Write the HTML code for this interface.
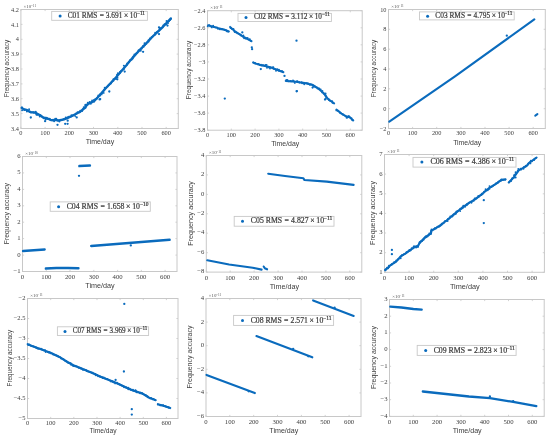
<!DOCTYPE html><html><head><meta charset="utf-8"><style>html,body{margin:0;padding:0;background:#fff;width:550px;height:440px;overflow:hidden}svg{display:block;filter:blur(0.25px)}.tk{font-family:"Liberation Serif",serif;font-size:6.3px;fill:#3c3c3c}.lb{font-family:"Liberation Sans",sans-serif;font-size:7.1px;fill:#3c3c3c}.yl{font-size:6.4px}.lg{font-family:"Liberation Serif",serif;fill:#3a3a3a;stroke:#3a3a3a;stroke-width:0.22px}.ex{font-family:"Liberation Serif",serif;font-size:4.9px;fill:#555}</style></head><body>
<svg width="550" height="440" viewBox="0 0 550 440">
<rect width="550" height="440" fill="#fff"/>
<g><rect x="20.9" y="9.5" width="157.4" height="119.0" fill="none" stroke="#c8c8c8" stroke-width="1"/><path d="M20.9 128.5v-1.6M20.9 9.5v1.6" stroke="#c8c8c8" stroke-width="0.8"/><text class="tk" style="font-size:6.30px" x="20.9" y="135.4" text-anchor="middle">0</text><path d="M45.1 128.5v-1.6M45.1 9.5v1.6" stroke="#c8c8c8" stroke-width="0.8"/><text class="tk" style="font-size:6.30px" x="45.1" y="135.4" text-anchor="middle">100</text><path d="M69.3 128.5v-1.6M69.3 9.5v1.6" stroke="#c8c8c8" stroke-width="0.8"/><text class="tk" style="font-size:6.30px" x="69.3" y="135.4" text-anchor="middle">200</text><path d="M93.5 128.5v-1.6M93.5 9.5v1.6" stroke="#c8c8c8" stroke-width="0.8"/><text class="tk" style="font-size:6.30px" x="93.5" y="135.4" text-anchor="middle">300</text><path d="M117.8 128.5v-1.6M117.8 9.5v1.6" stroke="#c8c8c8" stroke-width="0.8"/><text class="tk" style="font-size:6.30px" x="117.8" y="135.4" text-anchor="middle">400</text><path d="M142.0 128.5v-1.6M142.0 9.5v1.6" stroke="#c8c8c8" stroke-width="0.8"/><text class="tk" style="font-size:6.30px" x="142.0" y="135.4" text-anchor="middle">500</text><path d="M166.2 128.5v-1.6M166.2 9.5v1.6" stroke="#c8c8c8" stroke-width="0.8"/><text class="tk" style="font-size:6.30px" x="166.2" y="135.4" text-anchor="middle">600</text><path d="M20.9 128.5h1.6M178.3 128.5h-1.6" stroke="#c8c8c8" stroke-width="0.8"/><text class="tk" style="font-size:6.30px" x="18.9" y="130.6" text-anchor="end">3.4</text><path d="M20.9 113.6h1.6M178.3 113.6h-1.6" stroke="#c8c8c8" stroke-width="0.8"/><text class="tk" style="font-size:6.30px" x="18.9" y="115.7" text-anchor="end">3.5</text><path d="M20.9 98.7h1.6M178.3 98.7h-1.6" stroke="#c8c8c8" stroke-width="0.8"/><text class="tk" style="font-size:6.30px" x="18.9" y="100.8" text-anchor="end">3.6</text><path d="M20.9 83.9h1.6M178.3 83.9h-1.6" stroke="#c8c8c8" stroke-width="0.8"/><text class="tk" style="font-size:6.30px" x="18.9" y="86.0" text-anchor="end">3.7</text><path d="M20.9 69.0h1.6M178.3 69.0h-1.6" stroke="#c8c8c8" stroke-width="0.8"/><text class="tk" style="font-size:6.30px" x="18.9" y="71.1" text-anchor="end">3.8</text><path d="M20.9 54.1h1.6M178.3 54.1h-1.6" stroke="#c8c8c8" stroke-width="0.8"/><text class="tk" style="font-size:6.30px" x="18.9" y="56.2" text-anchor="end">3.9</text><path d="M20.9 39.3h1.6M178.3 39.3h-1.6" stroke="#c8c8c8" stroke-width="0.8"/><text class="tk" style="font-size:6.30px" x="18.9" y="41.4" text-anchor="end">4</text><path d="M20.9 24.4h1.6M178.3 24.4h-1.6" stroke="#c8c8c8" stroke-width="0.8"/><text class="tk" style="font-size:6.30px" x="18.9" y="26.5" text-anchor="end">4.1</text><path d="M20.9 9.5h1.6M178.3 9.5h-1.6" stroke="#c8c8c8" stroke-width="0.8"/><text class="tk" style="font-size:6.30px" x="18.9" y="11.6" text-anchor="end">4.2</text><polyline points="21.6,107.8 23.6,109.1 27.3,110.2 30.9,112.2 34.5,112.5 38.2,114.2 41.1,115.8 44.0,118.0 47.6,118.5 51.3,120.2 55.6,119.8 58.3,120.7 63.2,119.6 67.3,118.2 71.4,116.3 76.3,113.7 81.2,110.9 85.3,107.5 85.6,105.5 89.4,103.1 94.3,101.0 99.2,95.7 104.8,89.2 116.1,77.3 126.4,65.3 132.8,57.4 141.4,48.3 153.9,35.3 163.0,26.8 170.9,18.4" fill="none" stroke="#0a6bbd" stroke-width="2.3" stroke-linecap="round" stroke-linejoin="round"/><circle cx="22.1" cy="107.4" r="0.95" fill="#0a6bbd"/><circle cx="22.1" cy="110.2" r="0.95" fill="#0a6bbd"/><circle cx="24.2" cy="109.9" r="0.95" fill="#0a6bbd"/><circle cx="24.7" cy="110.0" r="0.95" fill="#0a6bbd"/><circle cx="27.0" cy="110.7" r="0.95" fill="#0a6bbd"/><circle cx="26.9" cy="111.5" r="0.95" fill="#0a6bbd"/><circle cx="29.1" cy="109.3" r="0.95" fill="#0a6bbd"/><circle cx="29.5" cy="112.0" r="0.95" fill="#0a6bbd"/><circle cx="30.6" cy="112.3" r="0.95" fill="#0a6bbd"/><circle cx="31.3" cy="112.4" r="0.95" fill="#0a6bbd"/><circle cx="33.0" cy="112.3" r="0.95" fill="#0a6bbd"/><circle cx="33.7" cy="112.6" r="0.95" fill="#0a6bbd"/><circle cx="35.8" cy="111.8" r="0.95" fill="#0a6bbd"/><circle cx="36.5" cy="113.0" r="0.95" fill="#0a6bbd"/><circle cx="36.3" cy="114.6" r="0.95" fill="#0a6bbd"/><circle cx="37.1" cy="114.9" r="0.95" fill="#0a6bbd"/><circle cx="38.3" cy="114.5" r="0.95" fill="#0a6bbd"/><circle cx="39.9" cy="115.0" r="0.95" fill="#0a6bbd"/><circle cx="39.7" cy="116.6" r="0.95" fill="#0a6bbd"/><circle cx="40.9" cy="116.3" r="0.95" fill="#0a6bbd"/><circle cx="42.2" cy="117.1" r="0.95" fill="#0a6bbd"/><circle cx="43.6" cy="117.9" r="0.95" fill="#0a6bbd"/><circle cx="45.0" cy="117.4" r="0.95" fill="#0a6bbd"/><circle cx="45.8" cy="119.4" r="0.95" fill="#0a6bbd"/><circle cx="46.6" cy="117.8" r="0.95" fill="#0a6bbd"/><circle cx="47.8" cy="119.0" r="0.95" fill="#0a6bbd"/><circle cx="49.6" cy="118.7" r="0.95" fill="#0a6bbd"/><circle cx="49.8" cy="119.2" r="0.95" fill="#0a6bbd"/><circle cx="50.6" cy="120.0" r="0.95" fill="#0a6bbd"/><circle cx="52.0" cy="120.3" r="0.95" fill="#0a6bbd"/><circle cx="52.7" cy="120.3" r="0.95" fill="#0a6bbd"/><circle cx="54.1" cy="121.2" r="0.95" fill="#0a6bbd"/><circle cx="55.2" cy="118.8" r="0.95" fill="#0a6bbd"/><circle cx="56.3" cy="118.7" r="0.95" fill="#0a6bbd"/><circle cx="57.4" cy="120.2" r="0.95" fill="#0a6bbd"/><circle cx="58.1" cy="120.3" r="0.95" fill="#0a6bbd"/><circle cx="59.4" cy="121.5" r="0.95" fill="#0a6bbd"/><circle cx="59.7" cy="120.2" r="0.95" fill="#0a6bbd"/><circle cx="60.8" cy="119.8" r="0.95" fill="#0a6bbd"/><circle cx="62.5" cy="119.4" r="0.95" fill="#0a6bbd"/><circle cx="64.0" cy="119.0" r="0.95" fill="#0a6bbd"/><circle cx="64.7" cy="119.2" r="0.95" fill="#0a6bbd"/><circle cx="65.7" cy="117.4" r="0.95" fill="#0a6bbd"/><circle cx="66.6" cy="118.2" r="0.95" fill="#0a6bbd"/><circle cx="67.5" cy="117.2" r="0.95" fill="#0a6bbd"/><circle cx="68.9" cy="116.7" r="0.95" fill="#0a6bbd"/><circle cx="69.5" cy="116.6" r="0.95" fill="#0a6bbd"/><circle cx="71.0" cy="116.5" r="0.95" fill="#0a6bbd"/><circle cx="71.4" cy="115.3" r="0.95" fill="#0a6bbd"/><circle cx="72.6" cy="115.8" r="0.95" fill="#0a6bbd"/><circle cx="73.3" cy="115.1" r="0.95" fill="#0a6bbd"/><circle cx="75.2" cy="116.1" r="0.95" fill="#0a6bbd"/><circle cx="75.7" cy="113.8" r="0.95" fill="#0a6bbd"/><circle cx="76.3" cy="113.4" r="0.95" fill="#0a6bbd"/><circle cx="77.5" cy="112.1" r="0.95" fill="#0a6bbd"/><circle cx="79.4" cy="112.4" r="0.95" fill="#0a6bbd"/><circle cx="80.0" cy="112.1" r="0.95" fill="#0a6bbd"/><circle cx="80.3" cy="110.8" r="0.95" fill="#0a6bbd"/><circle cx="82.2" cy="111.1" r="0.95" fill="#0a6bbd"/><circle cx="82.7" cy="109.6" r="0.95" fill="#0a6bbd"/><circle cx="82.8" cy="109.1" r="0.95" fill="#0a6bbd"/><circle cx="83.8" cy="108.0" r="0.95" fill="#0a6bbd"/><circle cx="83.7" cy="107.2" r="0.95" fill="#0a6bbd"/><circle cx="85.6" cy="107.5" r="0.95" fill="#0a6bbd"/><circle cx="86.4" cy="106.3" r="0.95" fill="#0a6bbd"/><circle cx="85.4" cy="104.7" r="0.95" fill="#0a6bbd"/><circle cx="87.5" cy="105.1" r="0.95" fill="#0a6bbd"/><circle cx="87.8" cy="102.8" r="0.95" fill="#0a6bbd"/><circle cx="88.8" cy="103.7" r="0.95" fill="#0a6bbd"/><circle cx="89.6" cy="101.9" r="0.95" fill="#0a6bbd"/><circle cx="90.8" cy="103.7" r="0.95" fill="#0a6bbd"/><circle cx="91.8" cy="102.6" r="0.95" fill="#0a6bbd"/><circle cx="92.1" cy="100.5" r="0.95" fill="#0a6bbd"/><circle cx="94.0" cy="101.8" r="0.95" fill="#0a6bbd"/><circle cx="93.9" cy="99.9" r="0.95" fill="#0a6bbd"/><circle cx="95.1" cy="99.3" r="0.95" fill="#0a6bbd"/><circle cx="96.7" cy="98.5" r="0.95" fill="#0a6bbd"/><circle cx="97.1" cy="98.4" r="0.95" fill="#0a6bbd"/><circle cx="98.0" cy="96.7" r="0.95" fill="#0a6bbd"/><circle cx="98.3" cy="95.5" r="0.95" fill="#0a6bbd"/><circle cx="100.1" cy="95.5" r="0.95" fill="#0a6bbd"/><circle cx="100.4" cy="93.9" r="0.95" fill="#0a6bbd"/><circle cx="101.6" cy="94.4" r="0.95" fill="#0a6bbd"/><circle cx="102.2" cy="93.1" r="0.95" fill="#0a6bbd"/><circle cx="103.7" cy="92.9" r="0.95" fill="#0a6bbd"/><circle cx="104.0" cy="90.4" r="0.95" fill="#0a6bbd"/><circle cx="104.6" cy="89.5" r="0.95" fill="#0a6bbd"/><circle cx="104.7" cy="87.8" r="0.95" fill="#0a6bbd"/><circle cx="106.1" cy="87.7" r="0.95" fill="#0a6bbd"/><circle cx="107.5" cy="86.6" r="0.95" fill="#0a6bbd"/><circle cx="107.9" cy="85.8" r="0.95" fill="#0a6bbd"/><circle cx="109.1" cy="84.7" r="0.95" fill="#0a6bbd"/><circle cx="109.8" cy="84.3" r="0.95" fill="#0a6bbd"/><circle cx="111.1" cy="83.4" r="0.95" fill="#0a6bbd"/><circle cx="111.0" cy="82.6" r="0.95" fill="#0a6bbd"/><circle cx="112.2" cy="81.5" r="0.95" fill="#0a6bbd"/><circle cx="113.4" cy="80.7" r="0.95" fill="#0a6bbd"/><circle cx="113.4" cy="79.2" r="0.95" fill="#0a6bbd"/><circle cx="116.0" cy="79.0" r="0.95" fill="#0a6bbd"/><circle cx="115.9" cy="77.7" r="0.95" fill="#0a6bbd"/><circle cx="117.5" cy="77.6" r="0.95" fill="#0a6bbd"/><circle cx="117.1" cy="76.4" r="0.95" fill="#0a6bbd"/><circle cx="117.0" cy="74.7" r="0.95" fill="#0a6bbd"/><circle cx="117.9" cy="73.3" r="0.95" fill="#0a6bbd"/><circle cx="120.0" cy="73.1" r="0.95" fill="#0a6bbd"/><circle cx="119.9" cy="71.9" r="0.95" fill="#0a6bbd"/><circle cx="120.9" cy="71.1" r="0.95" fill="#0a6bbd"/><circle cx="121.6" cy="70.7" r="0.95" fill="#0a6bbd"/><circle cx="123.7" cy="69.6" r="0.95" fill="#0a6bbd"/><circle cx="124.1" cy="68.6" r="0.95" fill="#0a6bbd"/><circle cx="124.3" cy="67.5" r="0.95" fill="#0a6bbd"/><circle cx="123.8" cy="65.6" r="0.95" fill="#0a6bbd"/><circle cx="125.3" cy="65.9" r="0.95" fill="#0a6bbd"/><circle cx="127.0" cy="64.8" r="0.95" fill="#0a6bbd"/><circle cx="127.2" cy="63.4" r="0.95" fill="#0a6bbd"/><circle cx="128.6" cy="62.3" r="0.95" fill="#0a6bbd"/><circle cx="128.9" cy="61.8" r="0.95" fill="#0a6bbd"/><circle cx="129.9" cy="60.2" r="0.95" fill="#0a6bbd"/><circle cx="131.6" cy="59.7" r="0.95" fill="#0a6bbd"/><circle cx="132.4" cy="58.9" r="0.95" fill="#0a6bbd"/><circle cx="133.0" cy="57.9" r="0.95" fill="#0a6bbd"/><circle cx="133.1" cy="57.5" r="0.95" fill="#0a6bbd"/><circle cx="134.3" cy="56.4" r="0.95" fill="#0a6bbd"/><circle cx="134.4" cy="54.5" r="0.95" fill="#0a6bbd"/><circle cx="135.6" cy="54.5" r="0.95" fill="#0a6bbd"/><circle cx="136.6" cy="53.1" r="0.95" fill="#0a6bbd"/><circle cx="137.4" cy="52.6" r="0.95" fill="#0a6bbd"/><circle cx="138.5" cy="50.7" r="0.95" fill="#0a6bbd"/><circle cx="138.6" cy="50.2" r="0.95" fill="#0a6bbd"/><circle cx="140.8" cy="50.7" r="0.95" fill="#0a6bbd"/><circle cx="140.6" cy="48.6" r="0.95" fill="#0a6bbd"/><circle cx="141.8" cy="48.6" r="0.95" fill="#0a6bbd"/><circle cx="142.9" cy="46.3" r="0.95" fill="#0a6bbd"/><circle cx="143.7" cy="46.8" r="0.95" fill="#0a6bbd"/><circle cx="144.9" cy="45.3" r="0.95" fill="#0a6bbd"/><circle cx="144.5" cy="43.3" r="0.95" fill="#0a6bbd"/><circle cx="146.3" cy="43.9" r="0.95" fill="#0a6bbd"/><circle cx="147.6" cy="42.5" r="0.95" fill="#0a6bbd"/><circle cx="148.7" cy="41.6" r="0.95" fill="#0a6bbd"/><circle cx="148.5" cy="40.1" r="0.95" fill="#0a6bbd"/><circle cx="150.3" cy="39.2" r="0.95" fill="#0a6bbd"/><circle cx="149.8" cy="38.4" r="0.95" fill="#0a6bbd"/><circle cx="151.5" cy="37.3" r="0.95" fill="#0a6bbd"/><circle cx="152.3" cy="36.9" r="0.95" fill="#0a6bbd"/><circle cx="153.2" cy="36.1" r="0.95" fill="#0a6bbd"/><circle cx="154.9" cy="34.6" r="0.95" fill="#0a6bbd"/><circle cx="155.1" cy="34.3" r="0.95" fill="#0a6bbd"/><circle cx="155.2" cy="32.6" r="0.95" fill="#0a6bbd"/><circle cx="157.2" cy="31.7" r="0.95" fill="#0a6bbd"/><circle cx="157.5" cy="31.6" r="0.95" fill="#0a6bbd"/><circle cx="159.3" cy="30.3" r="0.95" fill="#0a6bbd"/><circle cx="159.6" cy="28.8" r="0.95" fill="#0a6bbd"/><circle cx="160.3" cy="28.4" r="0.95" fill="#0a6bbd"/><circle cx="161.0" cy="28.0" r="0.95" fill="#0a6bbd"/><circle cx="162.6" cy="26.9" r="0.95" fill="#0a6bbd"/><circle cx="163.2" cy="25.5" r="0.95" fill="#0a6bbd"/><circle cx="164.4" cy="24.8" r="0.95" fill="#0a6bbd"/><circle cx="164.6" cy="24.1" r="0.95" fill="#0a6bbd"/><circle cx="166.5" cy="24.3" r="0.95" fill="#0a6bbd"/><circle cx="168.1" cy="23.1" r="0.95" fill="#0a6bbd"/><circle cx="166.5" cy="21.0" r="0.95" fill="#0a6bbd"/><circle cx="168.9" cy="21.2" r="0.95" fill="#0a6bbd"/><circle cx="170.1" cy="20.0" r="0.95" fill="#0a6bbd"/><circle cx="170.9" cy="18.9" r="0.95" fill="#0a6bbd"/><circle cx="30.8" cy="117.5" r="1.15" fill="#0a6bbd"/><circle cx="45.1" cy="121.2" r="1.15" fill="#0a6bbd"/><circle cx="57.5" cy="124.8" r="1.15" fill="#0a6bbd"/><circle cx="65.2" cy="123.8" r="1.15" fill="#0a6bbd"/><circle cx="67.6" cy="123.8" r="1.15" fill="#0a6bbd"/><circle cx="67.7" cy="120.7" r="1.15" fill="#0a6bbd"/><circle cx="76.7" cy="117.4" r="1.15" fill="#0a6bbd"/><circle cx="99.6" cy="99.4" r="1.15" fill="#0a6bbd"/><circle cx="100.2" cy="99.1" r="1.15" fill="#0a6bbd"/><circle cx="109.3" cy="91.5" r="1.15" fill="#0a6bbd"/><circle cx="117.3" cy="79.3" r="1.15" fill="#0a6bbd"/><circle cx="124.7" cy="71.6" r="1.15" fill="#0a6bbd"/><circle cx="143.1" cy="51.8" r="1.15" fill="#0a6bbd"/><circle cx="159.0" cy="27.3" r="1.15" fill="#0a6bbd"/><circle cx="159.0" cy="34.1" r="1.15" fill="#0a6bbd"/><circle cx="167.5" cy="25.6" r="1.15" fill="#0a6bbd"/><text class="ex" x="23.6" y="8.0">×10<tspan dx="-0.3" dy="-1.0" font-size="3.4px">−11</tspan></text><text class="lb" style="font-size:7.00px" x="99.9" y="144.2" text-anchor="middle">Time/day</text><text class="lb" style="font-size:6.40px" transform="translate(8.9 68.6) rotate(-90)" text-anchor="middle">Frequency accuracy</text><rect x="51.7" y="11.4" width="95.7" height="8.9" fill="#fff" stroke="#c8c8c8" stroke-width="0.9"/><circle cx="60.1" cy="16.1" r="1.5" fill="#0a6bbd"/><text class="lg" x="82.50" y="17.81" font-size="8.00px" text-anchor="middle" textLength="29.65" lengthAdjust="spacingAndGlyphs">C01 RMS</text><text class="lg" x="101.70" y="17.81" font-size="8.00px" text-anchor="middle" textLength="4.15" lengthAdjust="spacingAndGlyphs">=</text><text class="lg" x="114.10" y="17.81" font-size="8.00px" text-anchor="middle" textLength="16.56" lengthAdjust="spacingAndGlyphs">3.691</text><text class="lg" x="126.05" y="17.81" font-size="8.00px" text-anchor="middle" textLength="4.15" lengthAdjust="spacingAndGlyphs">×</text><text class="lg" x="133.40" y="17.81" font-size="8.00px" text-anchor="middle" textLength="7.36" lengthAdjust="spacingAndGlyphs">10</text><text class="lg" x="140.95" y="14.71" font-size="5.76px" text-anchor="middle" textLength="8.09" lengthAdjust="spacingAndGlyphs">−11</text></g>
<g><rect x="207.5" y="10.7" width="154.7" height="119.5" fill="none" stroke="#c8c8c8" stroke-width="1"/><path d="M207.5 130.2v-1.6M207.5 10.7v1.6" stroke="#c8c8c8" stroke-width="0.8"/><text class="tk" style="font-size:6.30px" x="207.5" y="137.1" text-anchor="middle">0</text><path d="M231.3 130.2v-1.6M231.3 10.7v1.6" stroke="#c8c8c8" stroke-width="0.8"/><text class="tk" style="font-size:6.30px" x="231.3" y="137.1" text-anchor="middle">100</text><path d="M255.1 130.2v-1.6M255.1 10.7v1.6" stroke="#c8c8c8" stroke-width="0.8"/><text class="tk" style="font-size:6.30px" x="255.1" y="137.1" text-anchor="middle">200</text><path d="M278.9 130.2v-1.6M278.9 10.7v1.6" stroke="#c8c8c8" stroke-width="0.8"/><text class="tk" style="font-size:6.30px" x="278.9" y="137.1" text-anchor="middle">300</text><path d="M302.7 130.2v-1.6M302.7 10.7v1.6" stroke="#c8c8c8" stroke-width="0.8"/><text class="tk" style="font-size:6.30px" x="302.7" y="137.1" text-anchor="middle">400</text><path d="M326.5 130.2v-1.6M326.5 10.7v1.6" stroke="#c8c8c8" stroke-width="0.8"/><text class="tk" style="font-size:6.30px" x="326.5" y="137.1" text-anchor="middle">500</text><path d="M350.3 130.2v-1.6M350.3 10.7v1.6" stroke="#c8c8c8" stroke-width="0.8"/><text class="tk" style="font-size:6.30px" x="350.3" y="137.1" text-anchor="middle">600</text><path d="M207.5 130.2h1.6M362.2 130.2h-1.6" stroke="#c8c8c8" stroke-width="0.8"/><text class="tk" style="font-size:6.30px" x="205.5" y="132.4" text-anchor="end">−3.8</text><path d="M207.5 113.1h1.6M362.2 113.1h-1.6" stroke="#c8c8c8" stroke-width="0.8"/><text class="tk" style="font-size:6.30px" x="205.5" y="115.3" text-anchor="end">−3.6</text><path d="M207.5 96.1h1.6M362.2 96.1h-1.6" stroke="#c8c8c8" stroke-width="0.8"/><text class="tk" style="font-size:6.30px" x="205.5" y="98.3" text-anchor="end">−3.4</text><path d="M207.5 79.0h1.6M362.2 79.0h-1.6" stroke="#c8c8c8" stroke-width="0.8"/><text class="tk" style="font-size:6.30px" x="205.5" y="81.2" text-anchor="end">−3.2</text><path d="M207.5 61.9h1.6M362.2 61.9h-1.6" stroke="#c8c8c8" stroke-width="0.8"/><text class="tk" style="font-size:6.30px" x="205.5" y="64.1" text-anchor="end">−3</text><path d="M207.5 44.8h1.6M362.2 44.8h-1.6" stroke="#c8c8c8" stroke-width="0.8"/><text class="tk" style="font-size:6.30px" x="205.5" y="47.0" text-anchor="end">−2.8</text><path d="M207.5 27.8h1.6M362.2 27.8h-1.6" stroke="#c8c8c8" stroke-width="0.8"/><text class="tk" style="font-size:6.30px" x="205.5" y="30.0" text-anchor="end">−2.6</text><path d="M207.5 10.7h1.6M362.2 10.7h-1.6" stroke="#c8c8c8" stroke-width="0.8"/><text class="tk" style="font-size:6.30px" x="205.5" y="12.9" text-anchor="end">−2.4</text><polyline points="208.1,25.2 218.1,28.1 223.9,29.5 228.9,31.4" fill="none" stroke="#0a6bbd" stroke-width="2.0" stroke-linecap="round" stroke-linejoin="round"/><polyline points="230.1,26.9 235.5,31.7 242.8,36.5 251.5,41.2" fill="none" stroke="#0a6bbd" stroke-width="2.0" stroke-linecap="round" stroke-linejoin="round"/><polyline points="253.2,62.4 256.0,63.6 261.0,65.3 265.0,66.0 270.4,67.2 275.5,69.2 283.4,72.2" fill="none" stroke="#0a6bbd" stroke-width="2.0" stroke-linecap="round" stroke-linejoin="round"/><polyline points="285.7,80.9 295.9,81.7 305.5,83.3 312.6,84.9 318.2,88.4 323.7,93.2 327.7,98.7 334.2,103.5" fill="none" stroke="#0a6bbd" stroke-width="2.0" stroke-linecap="round" stroke-linejoin="round"/><polyline points="336.4,109.6 341.5,113.5 347.6,117.5 348.5,116.2 353.3,120.4" fill="none" stroke="#0a6bbd" stroke-width="2.0" stroke-linecap="round" stroke-linejoin="round"/><circle cx="207.7" cy="26.3" r="0.95" fill="#0a6bbd"/><circle cx="209.3" cy="25.2" r="0.95" fill="#0a6bbd"/><circle cx="210.4" cy="26.4" r="0.95" fill="#0a6bbd"/><circle cx="211.8" cy="27.4" r="0.95" fill="#0a6bbd"/><circle cx="213.2" cy="25.6" r="0.95" fill="#0a6bbd"/><circle cx="213.8" cy="27.0" r="0.95" fill="#0a6bbd"/><circle cx="215.5" cy="27.4" r="0.95" fill="#0a6bbd"/><circle cx="216.9" cy="27.4" r="0.95" fill="#0a6bbd"/><circle cx="217.9" cy="28.7" r="0.95" fill="#0a6bbd"/><circle cx="218.7" cy="28.4" r="0.95" fill="#0a6bbd"/><circle cx="219.8" cy="29.2" r="0.95" fill="#0a6bbd"/><circle cx="221.3" cy="29.4" r="0.95" fill="#0a6bbd"/><circle cx="222.3" cy="29.1" r="0.95" fill="#0a6bbd"/><circle cx="223.0" cy="29.6" r="0.95" fill="#0a6bbd"/><circle cx="224.6" cy="30.1" r="0.95" fill="#0a6bbd"/><circle cx="225.8" cy="30.1" r="0.95" fill="#0a6bbd"/><circle cx="226.4" cy="30.6" r="0.95" fill="#0a6bbd"/><circle cx="226.8" cy="31.2" r="0.95" fill="#0a6bbd"/><circle cx="228.1" cy="31.7" r="0.95" fill="#0a6bbd"/><circle cx="230.6" cy="28.0" r="0.95" fill="#0a6bbd"/><circle cx="230.9" cy="27.9" r="0.95" fill="#0a6bbd"/><circle cx="231.8" cy="28.9" r="0.95" fill="#0a6bbd"/><circle cx="233.5" cy="29.0" r="0.95" fill="#0a6bbd"/><circle cx="234.1" cy="30.7" r="0.95" fill="#0a6bbd"/><circle cx="234.7" cy="32.0" r="0.95" fill="#0a6bbd"/><circle cx="235.6" cy="32.2" r="0.95" fill="#0a6bbd"/><circle cx="237.2" cy="33.3" r="0.95" fill="#0a6bbd"/><circle cx="238.5" cy="33.6" r="0.95" fill="#0a6bbd"/><circle cx="239.7" cy="34.3" r="0.95" fill="#0a6bbd"/><circle cx="240.7" cy="34.7" r="0.95" fill="#0a6bbd"/><circle cx="241.1" cy="35.5" r="0.95" fill="#0a6bbd"/><circle cx="242.6" cy="36.2" r="0.95" fill="#0a6bbd"/><circle cx="243.4" cy="35.5" r="0.95" fill="#0a6bbd"/><circle cx="244.1" cy="38.3" r="0.95" fill="#0a6bbd"/><circle cx="245.7" cy="38.6" r="0.95" fill="#0a6bbd"/><circle cx="246.1" cy="38.3" r="0.95" fill="#0a6bbd"/><circle cx="247.6" cy="38.0" r="0.95" fill="#0a6bbd"/><circle cx="249.0" cy="39.6" r="0.95" fill="#0a6bbd"/><circle cx="249.8" cy="39.3" r="0.95" fill="#0a6bbd"/><circle cx="250.7" cy="40.9" r="0.95" fill="#0a6bbd"/><circle cx="253.4" cy="62.8" r="0.95" fill="#0a6bbd"/><circle cx="254.7" cy="63.4" r="0.95" fill="#0a6bbd"/><circle cx="255.2" cy="63.2" r="0.95" fill="#0a6bbd"/><circle cx="256.0" cy="63.6" r="0.95" fill="#0a6bbd"/><circle cx="257.8" cy="64.3" r="0.95" fill="#0a6bbd"/><circle cx="258.6" cy="64.0" r="0.95" fill="#0a6bbd"/><circle cx="259.7" cy="65.1" r="0.95" fill="#0a6bbd"/><circle cx="261.0" cy="64.7" r="0.95" fill="#0a6bbd"/><circle cx="261.9" cy="65.4" r="0.95" fill="#0a6bbd"/><circle cx="262.5" cy="65.1" r="0.95" fill="#0a6bbd"/><circle cx="263.8" cy="65.3" r="0.95" fill="#0a6bbd"/><circle cx="265.0" cy="65.9" r="0.95" fill="#0a6bbd"/><circle cx="265.7" cy="64.9" r="0.95" fill="#0a6bbd"/><circle cx="266.6" cy="64.9" r="0.95" fill="#0a6bbd"/><circle cx="267.0" cy="67.7" r="0.95" fill="#0a6bbd"/><circle cx="269.0" cy="67.6" r="0.95" fill="#0a6bbd"/><circle cx="269.6" cy="67.1" r="0.95" fill="#0a6bbd"/><circle cx="270.0" cy="68.5" r="0.95" fill="#0a6bbd"/><circle cx="272.6" cy="67.5" r="0.95" fill="#0a6bbd"/><circle cx="273.3" cy="67.3" r="0.95" fill="#0a6bbd"/><circle cx="273.8" cy="68.7" r="0.95" fill="#0a6bbd"/><circle cx="274.9" cy="69.1" r="0.95" fill="#0a6bbd"/><circle cx="276.0" cy="70.7" r="0.95" fill="#0a6bbd"/><circle cx="277.3" cy="69.2" r="0.95" fill="#0a6bbd"/><circle cx="278.9" cy="69.8" r="0.95" fill="#0a6bbd"/><circle cx="278.9" cy="70.8" r="0.95" fill="#0a6bbd"/><circle cx="281.1" cy="71.1" r="0.95" fill="#0a6bbd"/><circle cx="282.2" cy="71.1" r="0.95" fill="#0a6bbd"/><circle cx="282.7" cy="71.8" r="0.95" fill="#0a6bbd"/><circle cx="286.3" cy="80.0" r="0.95" fill="#0a6bbd"/><circle cx="287.4" cy="80.0" r="0.95" fill="#0a6bbd"/><circle cx="288.8" cy="81.2" r="0.95" fill="#0a6bbd"/><circle cx="290.5" cy="81.0" r="0.95" fill="#0a6bbd"/><circle cx="291.1" cy="81.2" r="0.95" fill="#0a6bbd"/><circle cx="293.0" cy="80.4" r="0.95" fill="#0a6bbd"/><circle cx="293.8" cy="81.2" r="0.95" fill="#0a6bbd"/><circle cx="294.8" cy="82.9" r="0.95" fill="#0a6bbd"/><circle cx="296.8" cy="81.4" r="0.95" fill="#0a6bbd"/><circle cx="297.4" cy="81.1" r="0.95" fill="#0a6bbd"/><circle cx="299.2" cy="82.3" r="0.95" fill="#0a6bbd"/><circle cx="299.7" cy="82.6" r="0.95" fill="#0a6bbd"/><circle cx="301.7" cy="82.1" r="0.95" fill="#0a6bbd"/><circle cx="302.1" cy="83.3" r="0.95" fill="#0a6bbd"/><circle cx="303.9" cy="82.7" r="0.95" fill="#0a6bbd"/><circle cx="304.2" cy="84.2" r="0.95" fill="#0a6bbd"/><circle cx="306.0" cy="83.0" r="0.95" fill="#0a6bbd"/><circle cx="307.2" cy="83.3" r="0.95" fill="#0a6bbd"/><circle cx="308.4" cy="83.4" r="0.95" fill="#0a6bbd"/><circle cx="309.9" cy="84.7" r="0.95" fill="#0a6bbd"/><circle cx="310.4" cy="84.3" r="0.95" fill="#0a6bbd"/><circle cx="311.8" cy="84.4" r="0.95" fill="#0a6bbd"/><circle cx="312.7" cy="85.1" r="0.95" fill="#0a6bbd"/><circle cx="313.3" cy="86.6" r="0.95" fill="#0a6bbd"/><circle cx="314.5" cy="86.2" r="0.95" fill="#0a6bbd"/><circle cx="315.3" cy="87.3" r="0.95" fill="#0a6bbd"/><circle cx="317.3" cy="87.7" r="0.95" fill="#0a6bbd"/><circle cx="317.5" cy="88.6" r="0.95" fill="#0a6bbd"/><circle cx="319.2" cy="88.4" r="0.95" fill="#0a6bbd"/><circle cx="319.5" cy="89.1" r="0.95" fill="#0a6bbd"/><circle cx="320.7" cy="89.5" r="0.95" fill="#0a6bbd"/><circle cx="322.4" cy="90.9" r="0.95" fill="#0a6bbd"/><circle cx="322.2" cy="92.4" r="0.95" fill="#0a6bbd"/><circle cx="323.6" cy="93.4" r="0.95" fill="#0a6bbd"/><circle cx="324.2" cy="94.1" r="0.95" fill="#0a6bbd"/><circle cx="325.6" cy="93.5" r="0.95" fill="#0a6bbd"/><circle cx="325.5" cy="95.2" r="0.95" fill="#0a6bbd"/><circle cx="325.6" cy="96.1" r="0.95" fill="#0a6bbd"/><circle cx="326.2" cy="97.6" r="0.95" fill="#0a6bbd"/><circle cx="325.8" cy="98.9" r="0.95" fill="#0a6bbd"/><circle cx="328.6" cy="98.9" r="0.95" fill="#0a6bbd"/><circle cx="328.8" cy="100.1" r="0.95" fill="#0a6bbd"/><circle cx="330.1" cy="100.7" r="0.95" fill="#0a6bbd"/><circle cx="330.6" cy="100.9" r="0.95" fill="#0a6bbd"/><circle cx="332.2" cy="101.2" r="0.95" fill="#0a6bbd"/><circle cx="332.5" cy="102.7" r="0.95" fill="#0a6bbd"/><circle cx="333.4" cy="102.7" r="0.95" fill="#0a6bbd"/><circle cx="336.4" cy="110.4" r="0.95" fill="#0a6bbd"/><circle cx="338.0" cy="110.8" r="0.95" fill="#0a6bbd"/><circle cx="339.3" cy="111.6" r="0.95" fill="#0a6bbd"/><circle cx="340.0" cy="112.7" r="0.95" fill="#0a6bbd"/><circle cx="340.6" cy="113.3" r="0.95" fill="#0a6bbd"/><circle cx="342.4" cy="114.0" r="0.95" fill="#0a6bbd"/><circle cx="342.6" cy="114.5" r="0.95" fill="#0a6bbd"/><circle cx="343.6" cy="114.8" r="0.95" fill="#0a6bbd"/><circle cx="345.3" cy="115.8" r="0.95" fill="#0a6bbd"/><circle cx="346.9" cy="116.2" r="0.95" fill="#0a6bbd"/><circle cx="346.6" cy="117.8" r="0.95" fill="#0a6bbd"/><circle cx="347.2" cy="117.1" r="0.95" fill="#0a6bbd"/><circle cx="348.8" cy="116.4" r="0.95" fill="#0a6bbd"/><circle cx="349.0" cy="116.5" r="0.95" fill="#0a6bbd"/><circle cx="350.2" cy="117.5" r="0.95" fill="#0a6bbd"/><circle cx="351.5" cy="118.2" r="0.95" fill="#0a6bbd"/><circle cx="352.0" cy="119.8" r="0.95" fill="#0a6bbd"/><circle cx="352.8" cy="120.2" r="0.95" fill="#0a6bbd"/><circle cx="224.8" cy="98.6" r="1.15" fill="#0a6bbd"/><circle cx="242.3" cy="32.4" r="1.15" fill="#0a6bbd"/><circle cx="251.8" cy="47.3" r="1.15" fill="#0a6bbd"/><circle cx="252.1" cy="49.2" r="1.15" fill="#0a6bbd"/><circle cx="260.8" cy="69.1" r="1.15" fill="#0a6bbd"/><circle cx="284.5" cy="75.9" r="1.15" fill="#0a6bbd"/><circle cx="296.5" cy="40.7" r="1.15" fill="#0a6bbd"/><circle cx="296.8" cy="91.1" r="1.15" fill="#0a6bbd"/><circle cx="296.7" cy="91.3" r="1.15" fill="#0a6bbd"/><circle cx="312.6" cy="87.6" r="1.15" fill="#0a6bbd"/><circle cx="325.0" cy="99.5" r="1.15" fill="#0a6bbd"/><text class="ex" x="210.2" y="9.2">×10<tspan dx="-0.3" dy="-1.0" font-size="3.4px">−11</tspan></text><text class="lb" style="font-size:6.90px" x="285.2" y="145.6" text-anchor="middle">Time/day</text><text class="lb" style="font-size:6.48px" transform="translate(190.6 70.0) rotate(-90)" text-anchor="middle">Frequency accuracy</text><rect x="238.0" y="13.4" width="93.4" height="8.1" fill="#fff" stroke="#c8c8c8" stroke-width="0.9"/><circle cx="246.0" cy="17.5" r="1.5" fill="#0a6bbd"/><text class="lg" x="268.42" y="19.23" font-size="8.00px" text-anchor="middle" textLength="29.09" lengthAdjust="spacingAndGlyphs">C02 RMS</text><text class="lg" x="287.26" y="19.23" font-size="8.00px" text-anchor="middle" textLength="4.07" lengthAdjust="spacingAndGlyphs">=</text><text class="lg" x="299.42" y="19.23" font-size="8.00px" text-anchor="middle" textLength="16.24" lengthAdjust="spacingAndGlyphs">3.112</text><text class="lg" x="311.14" y="19.23" font-size="8.00px" text-anchor="middle" textLength="4.07" lengthAdjust="spacingAndGlyphs">×</text><text class="lg" x="318.35" y="19.23" font-size="8.00px" text-anchor="middle" textLength="7.22" lengthAdjust="spacingAndGlyphs">10</text><text class="lg" x="325.85" y="16.13" font-size="5.76px" text-anchor="middle" textLength="7.93" lengthAdjust="spacingAndGlyphs">−11</text></g>
<g><rect x="388.5" y="9.5" width="156.8" height="119.0" fill="none" stroke="#c8c8c8" stroke-width="1"/><path d="M388.5 128.5v-1.6M388.5 9.5v1.6" stroke="#c8c8c8" stroke-width="0.8"/><text class="tk" style="font-size:6.30px" x="388.5" y="135.4" text-anchor="middle">0</text><path d="M412.6 128.5v-1.6M412.6 9.5v1.6" stroke="#c8c8c8" stroke-width="0.8"/><text class="tk" style="font-size:6.30px" x="412.6" y="135.4" text-anchor="middle">100</text><path d="M436.7 128.5v-1.6M436.7 9.5v1.6" stroke="#c8c8c8" stroke-width="0.8"/><text class="tk" style="font-size:6.30px" x="436.7" y="135.4" text-anchor="middle">200</text><path d="M460.9 128.5v-1.6M460.9 9.5v1.6" stroke="#c8c8c8" stroke-width="0.8"/><text class="tk" style="font-size:6.30px" x="460.9" y="135.4" text-anchor="middle">300</text><path d="M485.0 128.5v-1.6M485.0 9.5v1.6" stroke="#c8c8c8" stroke-width="0.8"/><text class="tk" style="font-size:6.30px" x="485.0" y="135.4" text-anchor="middle">400</text><path d="M509.1 128.5v-1.6M509.1 9.5v1.6" stroke="#c8c8c8" stroke-width="0.8"/><text class="tk" style="font-size:6.30px" x="509.1" y="135.4" text-anchor="middle">500</text><path d="M533.2 128.5v-1.6M533.2 9.5v1.6" stroke="#c8c8c8" stroke-width="0.8"/><text class="tk" style="font-size:6.30px" x="533.2" y="135.4" text-anchor="middle">600</text><path d="M388.5 128.5h1.6M545.3 128.5h-1.6" stroke="#c8c8c8" stroke-width="0.8"/><text class="tk" style="font-size:6.30px" x="386.5" y="130.5" text-anchor="end">−2</text><path d="M388.5 108.7h1.6M545.3 108.7h-1.6" stroke="#c8c8c8" stroke-width="0.8"/><text class="tk" style="font-size:6.30px" x="386.5" y="110.7" text-anchor="end">0</text><path d="M388.5 88.8h1.6M545.3 88.8h-1.6" stroke="#c8c8c8" stroke-width="0.8"/><text class="tk" style="font-size:6.30px" x="386.5" y="90.8" text-anchor="end">2</text><path d="M388.5 69.0h1.6M545.3 69.0h-1.6" stroke="#c8c8c8" stroke-width="0.8"/><text class="tk" style="font-size:6.30px" x="386.5" y="71.0" text-anchor="end">4</text><path d="M388.5 49.2h1.6M545.3 49.2h-1.6" stroke="#c8c8c8" stroke-width="0.8"/><text class="tk" style="font-size:6.30px" x="386.5" y="51.2" text-anchor="end">6</text><path d="M388.5 29.3h1.6M545.3 29.3h-1.6" stroke="#c8c8c8" stroke-width="0.8"/><text class="tk" style="font-size:6.30px" x="386.5" y="31.3" text-anchor="end">8</text><path d="M388.5 9.5h1.6M545.3 9.5h-1.6" stroke="#c8c8c8" stroke-width="0.8"/><text class="tk" style="font-size:6.30px" x="386.5" y="11.5" text-anchor="end">10</text><polyline points="389.3,121.7 455.0,76.4 534.3,19.4" fill="none" stroke="#0a6bbd" stroke-width="2.1" stroke-linecap="round" stroke-linejoin="round"/><polyline points="535.3,115.6 537.4,114.2" fill="none" stroke="#0a6bbd" stroke-width="2.1" stroke-linecap="round" stroke-linejoin="round"/><circle cx="506.8" cy="35.7" r="1.15" fill="#0a6bbd"/><text class="ex" x="391.2" y="8.0">×10<tspan dx="-0.3" dy="-1.0" font-size="3.4px">−11</tspan></text><text class="lb" style="font-size:6.90px" x="467.2" y="144.5" text-anchor="middle">Time/day</text><text class="lb" style="font-size:6.40px" transform="translate(375.9 68.6) rotate(-90)" text-anchor="middle">Frequency accuracy</text><rect x="419.5" y="11.9" width="94.7" height="8.0" fill="#fff" stroke="#c8c8c8" stroke-width="0.9"/><circle cx="427.6" cy="16.2" r="1.5" fill="#0a6bbd"/><text class="lg" x="450.14" y="17.66" font-size="8.00px" text-anchor="middle" textLength="29.74" lengthAdjust="spacingAndGlyphs">C03 RMS</text><text class="lg" x="469.40" y="17.66" font-size="8.00px" text-anchor="middle" textLength="4.16" lengthAdjust="spacingAndGlyphs">=</text><text class="lg" x="481.84" y="17.66" font-size="8.00px" text-anchor="middle" textLength="16.61" lengthAdjust="spacingAndGlyphs">4.795</text><text class="lg" x="493.82" y="17.66" font-size="8.00px" text-anchor="middle" textLength="4.16" lengthAdjust="spacingAndGlyphs">×</text><text class="lg" x="501.19" y="17.66" font-size="8.00px" text-anchor="middle" textLength="7.38" lengthAdjust="spacingAndGlyphs">10</text><text class="lg" x="508.40" y="14.56" font-size="5.76px" text-anchor="middle" textLength="8.11" lengthAdjust="spacingAndGlyphs">−11</text></g>
<g><rect x="22.5" y="156.5" width="154.5" height="115.0" fill="none" stroke="#c8c8c8" stroke-width="1"/><path d="M22.5 271.5v-1.6M22.5 156.5v1.6" stroke="#c8c8c8" stroke-width="0.8"/><text class="tk" style="font-size:6.70px" x="22.5" y="279.0" text-anchor="middle">0</text><path d="M46.3 271.5v-1.6M46.3 156.5v1.6" stroke="#c8c8c8" stroke-width="0.8"/><text class="tk" style="font-size:6.70px" x="46.3" y="279.0" text-anchor="middle">100</text><path d="M70.0 271.5v-1.6M70.0 156.5v1.6" stroke="#c8c8c8" stroke-width="0.8"/><text class="tk" style="font-size:6.70px" x="70.0" y="279.0" text-anchor="middle">200</text><path d="M93.8 271.5v-1.6M93.8 156.5v1.6" stroke="#c8c8c8" stroke-width="0.8"/><text class="tk" style="font-size:6.70px" x="93.8" y="279.0" text-anchor="middle">300</text><path d="M117.6 271.5v-1.6M117.6 156.5v1.6" stroke="#c8c8c8" stroke-width="0.8"/><text class="tk" style="font-size:6.70px" x="117.6" y="279.0" text-anchor="middle">400</text><path d="M141.3 271.5v-1.6M141.3 156.5v1.6" stroke="#c8c8c8" stroke-width="0.8"/><text class="tk" style="font-size:6.70px" x="141.3" y="279.0" text-anchor="middle">500</text><path d="M165.1 271.5v-1.6M165.1 156.5v1.6" stroke="#c8c8c8" stroke-width="0.8"/><text class="tk" style="font-size:6.70px" x="165.1" y="279.0" text-anchor="middle">600</text><path d="M22.5 271.5h1.6M177.0 271.5h-1.6" stroke="#c8c8c8" stroke-width="0.8"/><text class="tk" style="font-size:6.70px" x="20.5" y="273.0" text-anchor="end">−1</text><path d="M22.5 255.1h1.6M177.0 255.1h-1.6" stroke="#c8c8c8" stroke-width="0.8"/><text class="tk" style="font-size:6.70px" x="20.5" y="256.6" text-anchor="end">0</text><path d="M22.5 238.6h1.6M177.0 238.6h-1.6" stroke="#c8c8c8" stroke-width="0.8"/><text class="tk" style="font-size:6.70px" x="20.5" y="240.1" text-anchor="end">1</text><path d="M22.5 222.2h1.6M177.0 222.2h-1.6" stroke="#c8c8c8" stroke-width="0.8"/><text class="tk" style="font-size:6.70px" x="20.5" y="223.7" text-anchor="end">2</text><path d="M22.5 205.8h1.6M177.0 205.8h-1.6" stroke="#c8c8c8" stroke-width="0.8"/><text class="tk" style="font-size:6.70px" x="20.5" y="207.3" text-anchor="end">3</text><path d="M22.5 189.4h1.6M177.0 189.4h-1.6" stroke="#c8c8c8" stroke-width="0.8"/><text class="tk" style="font-size:6.70px" x="20.5" y="190.9" text-anchor="end">4</text><path d="M22.5 172.9h1.6M177.0 172.9h-1.6" stroke="#c8c8c8" stroke-width="0.8"/><text class="tk" style="font-size:6.70px" x="20.5" y="174.4" text-anchor="end">5</text><path d="M22.5 156.5h1.6M177.0 156.5h-1.6" stroke="#c8c8c8" stroke-width="0.8"/><text class="tk" style="font-size:6.70px" x="20.5" y="158.0" text-anchor="end">6</text><polyline points="23.1,250.9 44.6,249.4" fill="none" stroke="#0a6bbd" stroke-width="2.5" stroke-linecap="round" stroke-linejoin="round"/><polyline points="45.9,268.6 56.4,268.0 68.0,267.9 78.4,268.2" fill="none" stroke="#0a6bbd" stroke-width="2.5" stroke-linecap="round" stroke-linejoin="round"/><polyline points="79.4,166.1 89.9,165.5" fill="none" stroke="#0a6bbd" stroke-width="2.5" stroke-linecap="round" stroke-linejoin="round"/><polyline points="91.2,246.0 169.6,239.8" fill="none" stroke="#0a6bbd" stroke-width="2.5" stroke-linecap="round" stroke-linejoin="round"/><circle cx="79.0" cy="175.8" r="1.15" fill="#0a6bbd"/><circle cx="130.8" cy="245.4" r="1.15" fill="#0a6bbd"/><text class="ex" x="25.2" y="155.0">×10<tspan dx="-0.3" dy="-1.0" font-size="3.4px">−10</tspan></text><text class="lb" style="font-size:7.20px" x="100.0" y="288.0" text-anchor="middle">Time/day</text><text class="lb" style="font-size:6.80px" transform="translate(9.0 213.6) rotate(-90)" text-anchor="middle">Frequency accuracy</text><rect x="50.2" y="201.9" width="100.1" height="9.4" fill="#fff" stroke="#c8c8c8" stroke-width="0.9"/><circle cx="58.6" cy="206.8" r="1.5" fill="#0a6bbd"/><text class="lg" x="82.31" y="208.67" font-size="8.00px" text-anchor="middle" textLength="31.30" lengthAdjust="spacingAndGlyphs">C04 RMS</text><text class="lg" x="102.58" y="208.67" font-size="8.00px" text-anchor="middle" textLength="4.38" lengthAdjust="spacingAndGlyphs">=</text><text class="lg" x="115.67" y="208.67" font-size="8.00px" text-anchor="middle" textLength="17.48" lengthAdjust="spacingAndGlyphs">1.658</text><text class="lg" x="128.28" y="208.67" font-size="8.00px" text-anchor="middle" textLength="4.38" lengthAdjust="spacingAndGlyphs">×</text><text class="lg" x="136.04" y="208.67" font-size="8.00px" text-anchor="middle" textLength="7.77" lengthAdjust="spacingAndGlyphs">10</text><text class="lg" x="144.30" y="205.57" font-size="5.76px" text-anchor="middle" textLength="8.54" lengthAdjust="spacingAndGlyphs">−10</text></g>
<g><rect x="206.3" y="155.5" width="155.5" height="116.6" fill="none" stroke="#c8c8c8" stroke-width="1"/><path d="M206.3 272.1v-1.6M206.3 155.5v1.6" stroke="#c8c8c8" stroke-width="0.8"/><text class="tk" style="font-size:6.70px" x="206.3" y="280.0" text-anchor="middle">0</text><path d="M230.2 272.1v-1.6M230.2 155.5v1.6" stroke="#c8c8c8" stroke-width="0.8"/><text class="tk" style="font-size:6.70px" x="230.2" y="280.0" text-anchor="middle">100</text><path d="M254.1 272.1v-1.6M254.1 155.5v1.6" stroke="#c8c8c8" stroke-width="0.8"/><text class="tk" style="font-size:6.70px" x="254.1" y="280.0" text-anchor="middle">200</text><path d="M278.1 272.1v-1.6M278.1 155.5v1.6" stroke="#c8c8c8" stroke-width="0.8"/><text class="tk" style="font-size:6.70px" x="278.1" y="280.0" text-anchor="middle">300</text><path d="M302.0 272.1v-1.6M302.0 155.5v1.6" stroke="#c8c8c8" stroke-width="0.8"/><text class="tk" style="font-size:6.70px" x="302.0" y="280.0" text-anchor="middle">400</text><path d="M325.9 272.1v-1.6M325.9 155.5v1.6" stroke="#c8c8c8" stroke-width="0.8"/><text class="tk" style="font-size:6.70px" x="325.9" y="280.0" text-anchor="middle">500</text><path d="M349.8 272.1v-1.6M349.8 155.5v1.6" stroke="#c8c8c8" stroke-width="0.8"/><text class="tk" style="font-size:6.70px" x="349.8" y="280.0" text-anchor="middle">600</text><path d="M206.3 272.1h1.6M361.8 272.1h-1.6" stroke="#c8c8c8" stroke-width="0.8"/><text class="tk" style="font-size:6.70px" x="204.3" y="273.3" text-anchor="end">−8</text><path d="M206.3 252.7h1.6M361.8 252.7h-1.6" stroke="#c8c8c8" stroke-width="0.8"/><text class="tk" style="font-size:6.70px" x="204.3" y="253.9" text-anchor="end">−6</text><path d="M206.3 233.2h1.6M361.8 233.2h-1.6" stroke="#c8c8c8" stroke-width="0.8"/><text class="tk" style="font-size:6.70px" x="204.3" y="234.4" text-anchor="end">−4</text><path d="M206.3 213.8h1.6M361.8 213.8h-1.6" stroke="#c8c8c8" stroke-width="0.8"/><text class="tk" style="font-size:6.70px" x="204.3" y="215.0" text-anchor="end">−2</text><path d="M206.3 194.4h1.6M361.8 194.4h-1.6" stroke="#c8c8c8" stroke-width="0.8"/><text class="tk" style="font-size:6.70px" x="204.3" y="195.6" text-anchor="end">0</text><path d="M206.3 174.9h1.6M361.8 174.9h-1.6" stroke="#c8c8c8" stroke-width="0.8"/><text class="tk" style="font-size:6.70px" x="204.3" y="176.1" text-anchor="end">2</text><path d="M206.3 155.5h1.6M361.8 155.5h-1.6" stroke="#c8c8c8" stroke-width="0.8"/><text class="tk" style="font-size:6.70px" x="204.3" y="156.7" text-anchor="end">4</text><polyline points="207.3,260.3 229.1,264.5 252.7,267.7 261.6,269.6" fill="none" stroke="#0a6bbd" stroke-width="2.1" stroke-linecap="round" stroke-linejoin="round"/><polyline points="263.7,266.5 264.8,268.2 267.1,269.3" fill="none" stroke="#0a6bbd" stroke-width="2.1" stroke-linecap="round" stroke-linejoin="round"/><polyline points="268.2,173.7 285.0,176.0 303.4,178.2 304.4,180.0 326.8,181.6 353.6,184.9" fill="none" stroke="#0a6bbd" stroke-width="2.1" stroke-linecap="round" stroke-linejoin="round"/><text class="ex" x="209.0" y="154.0">×10<tspan dx="-0.3" dy="-1.0" font-size="3.4px">−11</tspan></text><text class="lb" style="font-size:7.20px" x="284.4" y="289.1" text-anchor="middle">Time/day</text><text class="lb" style="font-size:7.20px" transform="translate(193.3 213.4) rotate(-90)" text-anchor="middle">Frequency accuracy</text><rect x="234.2" y="216.4" width="99.8" height="9.8" fill="#fff" stroke="#c8c8c8" stroke-width="0.9"/><circle cx="242.5" cy="221.3" r="1.5" fill="#0a6bbd"/><text class="lg" x="266.49" y="223.46" font-size="8.00px" text-anchor="middle" textLength="31.26" lengthAdjust="spacingAndGlyphs">C05 RMS</text><text class="lg" x="286.73" y="223.46" font-size="8.00px" text-anchor="middle" textLength="4.37" lengthAdjust="spacingAndGlyphs">=</text><text class="lg" x="299.80" y="223.46" font-size="8.00px" text-anchor="middle" textLength="17.46" lengthAdjust="spacingAndGlyphs">4.827</text><text class="lg" x="312.40" y="223.46" font-size="8.00px" text-anchor="middle" textLength="4.37" lengthAdjust="spacingAndGlyphs">×</text><text class="lg" x="320.15" y="223.46" font-size="8.00px" text-anchor="middle" textLength="7.76" lengthAdjust="spacingAndGlyphs">10</text><text class="lg" x="328.05" y="220.36" font-size="5.76px" text-anchor="middle" textLength="8.53" lengthAdjust="spacingAndGlyphs">−11</text></g>
<g><rect x="384.5" y="154.5" width="159.9" height="117.8" fill="none" stroke="#c8c8c8" stroke-width="1"/><path d="M384.5 272.3v-1.6M384.5 154.5v1.6" stroke="#c8c8c8" stroke-width="0.8"/><text class="tk" style="font-size:6.70px" x="384.5" y="280.0" text-anchor="middle">0</text><path d="M409.1 272.3v-1.6M409.1 154.5v1.6" stroke="#c8c8c8" stroke-width="0.8"/><text class="tk" style="font-size:6.70px" x="409.1" y="280.0" text-anchor="middle">100</text><path d="M433.7 272.3v-1.6M433.7 154.5v1.6" stroke="#c8c8c8" stroke-width="0.8"/><text class="tk" style="font-size:6.70px" x="433.7" y="280.0" text-anchor="middle">200</text><path d="M458.3 272.3v-1.6M458.3 154.5v1.6" stroke="#c8c8c8" stroke-width="0.8"/><text class="tk" style="font-size:6.70px" x="458.3" y="280.0" text-anchor="middle">300</text><path d="M482.9 272.3v-1.6M482.9 154.5v1.6" stroke="#c8c8c8" stroke-width="0.8"/><text class="tk" style="font-size:6.70px" x="482.9" y="280.0" text-anchor="middle">400</text><path d="M507.5 272.3v-1.6M507.5 154.5v1.6" stroke="#c8c8c8" stroke-width="0.8"/><text class="tk" style="font-size:6.70px" x="507.5" y="280.0" text-anchor="middle">500</text><path d="M532.1 272.3v-1.6M532.1 154.5v1.6" stroke="#c8c8c8" stroke-width="0.8"/><text class="tk" style="font-size:6.70px" x="532.1" y="280.0" text-anchor="middle">600</text><path d="M384.5 272.3h1.6M544.4 272.3h-1.6" stroke="#c8c8c8" stroke-width="0.8"/><text class="tk" style="font-size:6.70px" x="382.5" y="273.7" text-anchor="end">1</text><path d="M384.5 252.7h1.6M544.4 252.7h-1.6" stroke="#c8c8c8" stroke-width="0.8"/><text class="tk" style="font-size:6.70px" x="382.5" y="254.1" text-anchor="end">2</text><path d="M384.5 233.0h1.6M544.4 233.0h-1.6" stroke="#c8c8c8" stroke-width="0.8"/><text class="tk" style="font-size:6.70px" x="382.5" y="234.4" text-anchor="end">3</text><path d="M384.5 213.4h1.6M544.4 213.4h-1.6" stroke="#c8c8c8" stroke-width="0.8"/><text class="tk" style="font-size:6.70px" x="382.5" y="214.8" text-anchor="end">4</text><path d="M384.5 193.8h1.6M544.4 193.8h-1.6" stroke="#c8c8c8" stroke-width="0.8"/><text class="tk" style="font-size:6.70px" x="382.5" y="195.2" text-anchor="end">5</text><path d="M384.5 174.1h1.6M544.4 174.1h-1.6" stroke="#c8c8c8" stroke-width="0.8"/><text class="tk" style="font-size:6.70px" x="382.5" y="175.5" text-anchor="end">6</text><path d="M384.5 154.5h1.6M544.4 154.5h-1.6" stroke="#c8c8c8" stroke-width="0.8"/><text class="tk" style="font-size:6.70px" x="382.5" y="155.9" text-anchor="end">7</text><polyline points="385.3,270.3 387.5,268.0 391.0,264.8 396.6,261.1 400.6,256.3 405.7,253.4 410.3,249.8 416.0,246.4 417.7,246.6 419.4,243.2 424.8,237.5 431.0,233.4 431.2,230.7 438.5,226.6 446.6,220.5 454.8,213.6 461.7,208.2 469.3,202.6 475.5,199.1 483.2,193.0 489.4,187.9 497.1,183.2 501.0,180.1 505.5,179.3" fill="none" stroke="#0a6bbd" stroke-width="2.1" stroke-linecap="round" stroke-linejoin="round"/><polyline points="508.8,182.5 514.1,177.0 518.7,170.4 526.5,166.2 528.8,163.1 536.6,157.5" fill="none" stroke="#0a6bbd" stroke-width="2.1" stroke-linecap="round" stroke-linejoin="round"/><circle cx="385.1" cy="269.8" r="0.95" fill="#0a6bbd"/><circle cx="385.8" cy="269.1" r="0.95" fill="#0a6bbd"/><circle cx="387.0" cy="267.8" r="0.95" fill="#0a6bbd"/><circle cx="388.2" cy="268.3" r="0.95" fill="#0a6bbd"/><circle cx="389.1" cy="267.0" r="0.95" fill="#0a6bbd"/><circle cx="388.9" cy="265.8" r="0.95" fill="#0a6bbd"/><circle cx="390.8" cy="265.1" r="0.95" fill="#0a6bbd"/><circle cx="391.9" cy="264.6" r="0.95" fill="#0a6bbd"/><circle cx="392.1" cy="264.0" r="0.95" fill="#0a6bbd"/><circle cx="393.8" cy="263.2" r="0.95" fill="#0a6bbd"/><circle cx="394.1" cy="262.2" r="0.95" fill="#0a6bbd"/><circle cx="395.4" cy="262.3" r="0.95" fill="#0a6bbd"/><circle cx="396.0" cy="261.4" r="0.95" fill="#0a6bbd"/><circle cx="396.3" cy="260.5" r="0.95" fill="#0a6bbd"/><circle cx="397.7" cy="259.4" r="0.95" fill="#0a6bbd"/><circle cx="398.5" cy="259.2" r="0.95" fill="#0a6bbd"/><circle cx="400.7" cy="258.3" r="0.95" fill="#0a6bbd"/><circle cx="400.7" cy="256.8" r="0.95" fill="#0a6bbd"/><circle cx="401.5" cy="256.1" r="0.95" fill="#0a6bbd"/><circle cx="401.8" cy="255.2" r="0.95" fill="#0a6bbd"/><circle cx="403.2" cy="254.9" r="0.95" fill="#0a6bbd"/><circle cx="404.0" cy="254.1" r="0.95" fill="#0a6bbd"/><circle cx="404.8" cy="253.9" r="0.95" fill="#0a6bbd"/><circle cx="406.3" cy="252.5" r="0.95" fill="#0a6bbd"/><circle cx="406.8" cy="252.1" r="0.95" fill="#0a6bbd"/><circle cx="408.0" cy="251.6" r="0.95" fill="#0a6bbd"/><circle cx="409.6" cy="250.9" r="0.95" fill="#0a6bbd"/><circle cx="409.4" cy="249.9" r="0.95" fill="#0a6bbd"/><circle cx="410.8" cy="250.3" r="0.95" fill="#0a6bbd"/><circle cx="411.7" cy="248.3" r="0.95" fill="#0a6bbd"/><circle cx="412.7" cy="248.4" r="0.95" fill="#0a6bbd"/><circle cx="413.6" cy="246.7" r="0.95" fill="#0a6bbd"/><circle cx="414.1" cy="246.3" r="0.95" fill="#0a6bbd"/><circle cx="416.1" cy="247.6" r="0.95" fill="#0a6bbd"/><circle cx="416.2" cy="246.8" r="0.95" fill="#0a6bbd"/><circle cx="417.1" cy="246.1" r="0.95" fill="#0a6bbd"/><circle cx="418.1" cy="246.8" r="0.95" fill="#0a6bbd"/><circle cx="418.2" cy="245.4" r="0.95" fill="#0a6bbd"/><circle cx="419.5" cy="243.3" r="0.95" fill="#0a6bbd"/><circle cx="419.6" cy="242.3" r="0.95" fill="#0a6bbd"/><circle cx="420.3" cy="241.6" r="0.95" fill="#0a6bbd"/><circle cx="421.0" cy="241.3" r="0.95" fill="#0a6bbd"/><circle cx="422.2" cy="241.0" r="0.95" fill="#0a6bbd"/><circle cx="423.4" cy="239.9" r="0.95" fill="#0a6bbd"/><circle cx="423.8" cy="239.1" r="0.95" fill="#0a6bbd"/><circle cx="424.6" cy="238.2" r="0.95" fill="#0a6bbd"/><circle cx="426.1" cy="237.3" r="0.95" fill="#0a6bbd"/><circle cx="425.7" cy="236.5" r="0.95" fill="#0a6bbd"/><circle cx="427.5" cy="236.5" r="0.95" fill="#0a6bbd"/><circle cx="428.5" cy="235.4" r="0.95" fill="#0a6bbd"/><circle cx="429.3" cy="233.5" r="0.95" fill="#0a6bbd"/><circle cx="430.9" cy="233.9" r="0.95" fill="#0a6bbd"/><circle cx="430.5" cy="233.3" r="0.95" fill="#0a6bbd"/><circle cx="431.4" cy="231.8" r="0.95" fill="#0a6bbd"/><circle cx="431.0" cy="231.5" r="0.95" fill="#0a6bbd"/><circle cx="431.5" cy="229.5" r="0.95" fill="#0a6bbd"/><circle cx="432.7" cy="230.3" r="0.95" fill="#0a6bbd"/><circle cx="434.4" cy="229.3" r="0.95" fill="#0a6bbd"/><circle cx="434.8" cy="228.2" r="0.95" fill="#0a6bbd"/><circle cx="435.9" cy="228.5" r="0.95" fill="#0a6bbd"/><circle cx="437.0" cy="227.1" r="0.95" fill="#0a6bbd"/><circle cx="438.0" cy="226.4" r="0.95" fill="#0a6bbd"/><circle cx="439.3" cy="226.6" r="0.95" fill="#0a6bbd"/><circle cx="440.4" cy="225.8" r="0.95" fill="#0a6bbd"/><circle cx="441.6" cy="224.7" r="0.95" fill="#0a6bbd"/><circle cx="441.8" cy="223.8" r="0.95" fill="#0a6bbd"/><circle cx="443.5" cy="223.3" r="0.95" fill="#0a6bbd"/><circle cx="444.0" cy="222.4" r="0.95" fill="#0a6bbd"/><circle cx="445.1" cy="221.0" r="0.95" fill="#0a6bbd"/><circle cx="446.6" cy="220.8" r="0.95" fill="#0a6bbd"/><circle cx="447.6" cy="221.0" r="0.95" fill="#0a6bbd"/><circle cx="448.0" cy="219.0" r="0.95" fill="#0a6bbd"/><circle cx="448.7" cy="219.0" r="0.95" fill="#0a6bbd"/><circle cx="449.7" cy="218.1" r="0.95" fill="#0a6bbd"/><circle cx="450.3" cy="216.5" r="0.95" fill="#0a6bbd"/><circle cx="452.2" cy="216.6" r="0.95" fill="#0a6bbd"/><circle cx="452.8" cy="215.8" r="0.95" fill="#0a6bbd"/><circle cx="453.6" cy="214.4" r="0.95" fill="#0a6bbd"/><circle cx="454.7" cy="214.3" r="0.95" fill="#0a6bbd"/><circle cx="455.9" cy="213.8" r="0.95" fill="#0a6bbd"/><circle cx="456.4" cy="212.2" r="0.95" fill="#0a6bbd"/><circle cx="456.5" cy="211.5" r="0.95" fill="#0a6bbd"/><circle cx="457.9" cy="211.0" r="0.95" fill="#0a6bbd"/><circle cx="460.2" cy="211.1" r="0.95" fill="#0a6bbd"/><circle cx="460.3" cy="208.7" r="0.95" fill="#0a6bbd"/><circle cx="461.2" cy="208.9" r="0.95" fill="#0a6bbd"/><circle cx="462.6" cy="208.3" r="0.95" fill="#0a6bbd"/><circle cx="462.5" cy="207.2" r="0.95" fill="#0a6bbd"/><circle cx="463.3" cy="205.7" r="0.95" fill="#0a6bbd"/><circle cx="465.1" cy="206.7" r="0.95" fill="#0a6bbd"/><circle cx="466.7" cy="205.2" r="0.95" fill="#0a6bbd"/><circle cx="467.0" cy="204.2" r="0.95" fill="#0a6bbd"/><circle cx="467.6" cy="204.3" r="0.95" fill="#0a6bbd"/><circle cx="468.9" cy="203.0" r="0.95" fill="#0a6bbd"/><circle cx="470.4" cy="202.1" r="0.95" fill="#0a6bbd"/><circle cx="471.4" cy="202.7" r="0.95" fill="#0a6bbd"/><circle cx="471.7" cy="201.9" r="0.95" fill="#0a6bbd"/><circle cx="473.6" cy="200.9" r="0.95" fill="#0a6bbd"/><circle cx="474.0" cy="199.5" r="0.95" fill="#0a6bbd"/><circle cx="475.0" cy="198.4" r="0.95" fill="#0a6bbd"/><circle cx="475.1" cy="198.4" r="0.95" fill="#0a6bbd"/><circle cx="477.0" cy="197.6" r="0.95" fill="#0a6bbd"/><circle cx="478.6" cy="197.1" r="0.95" fill="#0a6bbd"/><circle cx="478.3" cy="196.0" r="0.95" fill="#0a6bbd"/><circle cx="480.0" cy="195.6" r="0.95" fill="#0a6bbd"/><circle cx="481.5" cy="195.1" r="0.95" fill="#0a6bbd"/><circle cx="481.9" cy="193.8" r="0.95" fill="#0a6bbd"/><circle cx="482.6" cy="194.1" r="0.95" fill="#0a6bbd"/><circle cx="483.8" cy="192.4" r="0.95" fill="#0a6bbd"/><circle cx="484.1" cy="191.7" r="0.95" fill="#0a6bbd"/><circle cx="485.5" cy="190.8" r="0.95" fill="#0a6bbd"/><circle cx="485.6" cy="189.2" r="0.95" fill="#0a6bbd"/><circle cx="487.7" cy="190.3" r="0.95" fill="#0a6bbd"/><circle cx="488.4" cy="189.3" r="0.95" fill="#0a6bbd"/><circle cx="489.5" cy="188.7" r="0.95" fill="#0a6bbd"/><circle cx="489.5" cy="186.1" r="0.95" fill="#0a6bbd"/><circle cx="491.4" cy="187.0" r="0.95" fill="#0a6bbd"/><circle cx="492.4" cy="186.2" r="0.95" fill="#0a6bbd"/><circle cx="493.0" cy="185.8" r="0.95" fill="#0a6bbd"/><circle cx="494.4" cy="185.0" r="0.95" fill="#0a6bbd"/><circle cx="495.6" cy="184.1" r="0.95" fill="#0a6bbd"/><circle cx="496.2" cy="183.1" r="0.95" fill="#0a6bbd"/><circle cx="497.7" cy="182.8" r="0.95" fill="#0a6bbd"/><circle cx="497.9" cy="182.1" r="0.95" fill="#0a6bbd"/><circle cx="499.3" cy="181.1" r="0.95" fill="#0a6bbd"/><circle cx="500.9" cy="180.8" r="0.95" fill="#0a6bbd"/><circle cx="501.4" cy="179.5" r="0.95" fill="#0a6bbd"/><circle cx="502.6" cy="179.6" r="0.95" fill="#0a6bbd"/><circle cx="503.8" cy="179.8" r="0.95" fill="#0a6bbd"/><circle cx="505.3" cy="179.8" r="0.95" fill="#0a6bbd"/><circle cx="509.1" cy="182.3" r="0.95" fill="#0a6bbd"/><circle cx="510.5" cy="180.6" r="0.95" fill="#0a6bbd"/><circle cx="511.1" cy="181.0" r="0.95" fill="#0a6bbd"/><circle cx="511.8" cy="179.3" r="0.95" fill="#0a6bbd"/><circle cx="512.3" cy="178.2" r="0.95" fill="#0a6bbd"/><circle cx="514.2" cy="177.6" r="0.95" fill="#0a6bbd"/><circle cx="515.7" cy="177.5" r="0.95" fill="#0a6bbd"/><circle cx="514.0" cy="175.3" r="0.95" fill="#0a6bbd"/><circle cx="515.0" cy="174.5" r="0.95" fill="#0a6bbd"/><circle cx="515.9" cy="174.1" r="0.95" fill="#0a6bbd"/><circle cx="515.6" cy="172.2" r="0.95" fill="#0a6bbd"/><circle cx="517.6" cy="171.3" r="0.95" fill="#0a6bbd"/><circle cx="517.9" cy="170.8" r="0.95" fill="#0a6bbd"/><circle cx="518.3" cy="169.0" r="0.95" fill="#0a6bbd"/><circle cx="520.5" cy="168.8" r="0.95" fill="#0a6bbd"/><circle cx="521.2" cy="169.5" r="0.95" fill="#0a6bbd"/><circle cx="523.5" cy="168.7" r="0.95" fill="#0a6bbd"/><circle cx="523.7" cy="167.3" r="0.95" fill="#0a6bbd"/><circle cx="524.6" cy="166.6" r="0.95" fill="#0a6bbd"/><circle cx="525.8" cy="166.0" r="0.95" fill="#0a6bbd"/><circle cx="526.0" cy="165.7" r="0.95" fill="#0a6bbd"/><circle cx="528.0" cy="164.6" r="0.95" fill="#0a6bbd"/><circle cx="528.4" cy="163.8" r="0.95" fill="#0a6bbd"/><circle cx="530.4" cy="163.4" r="0.95" fill="#0a6bbd"/><circle cx="529.8" cy="162.4" r="0.95" fill="#0a6bbd"/><circle cx="530.8" cy="160.6" r="0.95" fill="#0a6bbd"/><circle cx="532.0" cy="161.3" r="0.95" fill="#0a6bbd"/><circle cx="533.9" cy="160.1" r="0.95" fill="#0a6bbd"/><circle cx="534.2" cy="159.8" r="0.95" fill="#0a6bbd"/><circle cx="534.6" cy="158.8" r="0.95" fill="#0a6bbd"/><circle cx="535.9" cy="158.1" r="0.95" fill="#0a6bbd"/><circle cx="391.9" cy="249.9" r="1.15" fill="#0a6bbd"/><circle cx="391.9" cy="254.2" r="1.15" fill="#0a6bbd"/><circle cx="483.8" cy="200.2" r="1.15" fill="#0a6bbd"/><circle cx="483.8" cy="223.1" r="1.15" fill="#0a6bbd"/><text class="ex" x="387.2" y="153.0">×10<tspan dx="-0.3" dy="-1.0" font-size="3.4px">−11</tspan></text><text class="lb" style="font-size:7.30px" x="464.8" y="289.1" text-anchor="middle">Time/day</text><text class="lb" style="font-size:7.10px" transform="translate(375.1 213.0) rotate(-90)" text-anchor="middle">Frequency accuracy</text><rect x="413.0" y="157.4" width="103.0" height="9.7" fill="#fff" stroke="#c8c8c8" stroke-width="0.9"/><circle cx="421.9" cy="162.0" r="1.5" fill="#0a6bbd"/><text class="lg" x="446.51" y="164.38" font-size="8.00px" text-anchor="middle" textLength="32.13" lengthAdjust="spacingAndGlyphs">C06 RMS</text><text class="lg" x="467.32" y="164.38" font-size="8.00px" text-anchor="middle" textLength="4.50" lengthAdjust="spacingAndGlyphs">=</text><text class="lg" x="480.75" y="164.38" font-size="8.00px" text-anchor="middle" textLength="17.94" lengthAdjust="spacingAndGlyphs">4.386</text><text class="lg" x="493.70" y="164.38" font-size="8.00px" text-anchor="middle" textLength="4.50" lengthAdjust="spacingAndGlyphs">×</text><text class="lg" x="501.67" y="164.38" font-size="8.00px" text-anchor="middle" textLength="7.98" lengthAdjust="spacingAndGlyphs">10</text><text class="lg" x="509.85" y="161.28" font-size="5.76px" text-anchor="middle" textLength="8.76" lengthAdjust="spacingAndGlyphs">−11</text></g>
<g><rect x="27.5" y="298.5" width="150.5" height="120.0" fill="none" stroke="#c8c8c8" stroke-width="1"/><path d="M27.5 418.5v-1.6M27.5 298.5v1.6" stroke="#c8c8c8" stroke-width="0.8"/><text class="tk" style="font-size:6.50px" x="27.5" y="425.1" text-anchor="middle">0</text><path d="M50.7 418.5v-1.6M50.7 298.5v1.6" stroke="#c8c8c8" stroke-width="0.8"/><text class="tk" style="font-size:6.50px" x="50.7" y="425.1" text-anchor="middle">100</text><path d="M73.8 418.5v-1.6M73.8 298.5v1.6" stroke="#c8c8c8" stroke-width="0.8"/><text class="tk" style="font-size:6.50px" x="73.8" y="425.1" text-anchor="middle">200</text><path d="M97.0 418.5v-1.6M97.0 298.5v1.6" stroke="#c8c8c8" stroke-width="0.8"/><text class="tk" style="font-size:6.50px" x="97.0" y="425.1" text-anchor="middle">300</text><path d="M120.1 418.5v-1.6M120.1 298.5v1.6" stroke="#c8c8c8" stroke-width="0.8"/><text class="tk" style="font-size:6.50px" x="120.1" y="425.1" text-anchor="middle">400</text><path d="M143.3 418.5v-1.6M143.3 298.5v1.6" stroke="#c8c8c8" stroke-width="0.8"/><text class="tk" style="font-size:6.50px" x="143.3" y="425.1" text-anchor="middle">500</text><path d="M166.4 418.5v-1.6M166.4 298.5v1.6" stroke="#c8c8c8" stroke-width="0.8"/><text class="tk" style="font-size:6.50px" x="166.4" y="425.1" text-anchor="middle">600</text><path d="M27.5 418.5h1.6M178.0 418.5h-1.6" stroke="#c8c8c8" stroke-width="0.8"/><text class="tk" style="font-size:6.50px" x="25.5" y="420.1" text-anchor="end">−5</text><path d="M27.5 398.5h1.6M178.0 398.5h-1.6" stroke="#c8c8c8" stroke-width="0.8"/><text class="tk" style="font-size:6.50px" x="25.5" y="400.1" text-anchor="end">−4.5</text><path d="M27.5 378.5h1.6M178.0 378.5h-1.6" stroke="#c8c8c8" stroke-width="0.8"/><text class="tk" style="font-size:6.50px" x="25.5" y="380.1" text-anchor="end">−4</text><path d="M27.5 358.5h1.6M178.0 358.5h-1.6" stroke="#c8c8c8" stroke-width="0.8"/><text class="tk" style="font-size:6.50px" x="25.5" y="360.1" text-anchor="end">−3.5</text><path d="M27.5 338.5h1.6M178.0 338.5h-1.6" stroke="#c8c8c8" stroke-width="0.8"/><text class="tk" style="font-size:6.50px" x="25.5" y="340.1" text-anchor="end">−3</text><path d="M27.5 318.5h1.6M178.0 318.5h-1.6" stroke="#c8c8c8" stroke-width="0.8"/><text class="tk" style="font-size:6.50px" x="25.5" y="320.1" text-anchor="end">−2.5</text><path d="M27.5 298.5h1.6M178.0 298.5h-1.6" stroke="#c8c8c8" stroke-width="0.8"/><text class="tk" style="font-size:6.50px" x="25.5" y="300.1" text-anchor="end">−2</text><polyline points="27.7,344.2 32.6,346.2 40.3,349.0 50.5,352.8 59.4,356.9 67.0,361.7 73.4,365.3 81.0,368.3 90.0,372.0 102.4,377.4 114.7,382.3 124.0,386.6 131.7,390.0 142.6,393.6 148.7,397.5 155.7,400.2" fill="none" stroke="#0a6bbd" stroke-width="2.2" stroke-linecap="round" stroke-linejoin="round"/><polyline points="157.9,404.2 164.2,406.0 170.2,408.0" fill="none" stroke="#0a6bbd" stroke-width="2.2" stroke-linecap="round" stroke-linejoin="round"/><circle cx="28.3" cy="345.0" r="0.95" fill="#0a6bbd"/><circle cx="29.1" cy="344.5" r="0.95" fill="#0a6bbd"/><circle cx="29.9" cy="345.1" r="0.95" fill="#0a6bbd"/><circle cx="31.4" cy="345.9" r="0.95" fill="#0a6bbd"/><circle cx="31.5" cy="346.1" r="0.95" fill="#0a6bbd"/><circle cx="33.2" cy="346.2" r="0.95" fill="#0a6bbd"/><circle cx="34.3" cy="346.8" r="0.95" fill="#0a6bbd"/><circle cx="35.7" cy="347.3" r="0.95" fill="#0a6bbd"/><circle cx="36.3" cy="347.8" r="0.95" fill="#0a6bbd"/><circle cx="37.1" cy="348.2" r="0.95" fill="#0a6bbd"/><circle cx="38.1" cy="348.7" r="0.95" fill="#0a6bbd"/><circle cx="39.2" cy="348.6" r="0.95" fill="#0a6bbd"/><circle cx="41.0" cy="348.7" r="0.95" fill="#0a6bbd"/><circle cx="41.9" cy="349.4" r="0.95" fill="#0a6bbd"/><circle cx="42.6" cy="349.8" r="0.95" fill="#0a6bbd"/><circle cx="44.2" cy="350.4" r="0.95" fill="#0a6bbd"/><circle cx="45.1" cy="350.2" r="0.95" fill="#0a6bbd"/><circle cx="45.7" cy="352.0" r="0.95" fill="#0a6bbd"/><circle cx="47.8" cy="352.0" r="0.95" fill="#0a6bbd"/><circle cx="48.7" cy="352.5" r="0.95" fill="#0a6bbd"/><circle cx="49.6" cy="352.2" r="0.95" fill="#0a6bbd"/><circle cx="50.5" cy="353.2" r="0.95" fill="#0a6bbd"/><circle cx="52.7" cy="353.7" r="0.95" fill="#0a6bbd"/><circle cx="53.2" cy="354.5" r="0.95" fill="#0a6bbd"/><circle cx="54.7" cy="354.7" r="0.95" fill="#0a6bbd"/><circle cx="56.0" cy="355.3" r="0.95" fill="#0a6bbd"/><circle cx="57.1" cy="355.8" r="0.95" fill="#0a6bbd"/><circle cx="58.0" cy="356.1" r="0.95" fill="#0a6bbd"/><circle cx="58.4" cy="356.6" r="0.95" fill="#0a6bbd"/><circle cx="59.7" cy="357.0" r="0.95" fill="#0a6bbd"/><circle cx="60.9" cy="358.3" r="0.95" fill="#0a6bbd"/><circle cx="61.4" cy="358.6" r="0.95" fill="#0a6bbd"/><circle cx="63.1" cy="359.1" r="0.95" fill="#0a6bbd"/><circle cx="64.1" cy="359.6" r="0.95" fill="#0a6bbd"/><circle cx="65.4" cy="360.9" r="0.95" fill="#0a6bbd"/><circle cx="66.5" cy="361.3" r="0.95" fill="#0a6bbd"/><circle cx="67.7" cy="362.5" r="0.95" fill="#0a6bbd"/><circle cx="69.0" cy="363.0" r="0.95" fill="#0a6bbd"/><circle cx="69.5" cy="362.9" r="0.95" fill="#0a6bbd"/><circle cx="70.6" cy="363.1" r="0.95" fill="#0a6bbd"/><circle cx="71.1" cy="364.7" r="0.95" fill="#0a6bbd"/><circle cx="72.8" cy="365.5" r="0.95" fill="#0a6bbd"/><circle cx="73.5" cy="366.0" r="0.95" fill="#0a6bbd"/><circle cx="75.0" cy="366.2" r="0.95" fill="#0a6bbd"/><circle cx="76.0" cy="366.3" r="0.95" fill="#0a6bbd"/><circle cx="77.2" cy="366.8" r="0.95" fill="#0a6bbd"/><circle cx="78.6" cy="367.7" r="0.95" fill="#0a6bbd"/><circle cx="79.6" cy="367.8" r="0.95" fill="#0a6bbd"/><circle cx="80.6" cy="367.9" r="0.95" fill="#0a6bbd"/><circle cx="81.1" cy="368.8" r="0.95" fill="#0a6bbd"/><circle cx="82.2" cy="368.9" r="0.95" fill="#0a6bbd"/><circle cx="83.0" cy="369.9" r="0.95" fill="#0a6bbd"/><circle cx="84.4" cy="369.8" r="0.95" fill="#0a6bbd"/><circle cx="86.2" cy="370.2" r="0.95" fill="#0a6bbd"/><circle cx="86.7" cy="371.1" r="0.95" fill="#0a6bbd"/><circle cx="87.7" cy="371.4" r="0.95" fill="#0a6bbd"/><circle cx="89.3" cy="371.9" r="0.95" fill="#0a6bbd"/><circle cx="90.2" cy="372.1" r="0.95" fill="#0a6bbd"/><circle cx="91.6" cy="372.5" r="0.95" fill="#0a6bbd"/><circle cx="92.8" cy="372.8" r="0.95" fill="#0a6bbd"/><circle cx="94.6" cy="373.7" r="0.95" fill="#0a6bbd"/><circle cx="95.4" cy="373.9" r="0.95" fill="#0a6bbd"/><circle cx="95.8" cy="375.2" r="0.95" fill="#0a6bbd"/><circle cx="97.2" cy="375.0" r="0.95" fill="#0a6bbd"/><circle cx="98.1" cy="376.2" r="0.95" fill="#0a6bbd"/><circle cx="100.0" cy="376.4" r="0.95" fill="#0a6bbd"/><circle cx="100.4" cy="377.0" r="0.95" fill="#0a6bbd"/><circle cx="102.2" cy="377.3" r="0.95" fill="#0a6bbd"/><circle cx="102.8" cy="378.0" r="0.95" fill="#0a6bbd"/><circle cx="103.8" cy="377.5" r="0.95" fill="#0a6bbd"/><circle cx="105.3" cy="378.5" r="0.95" fill="#0a6bbd"/><circle cx="106.8" cy="378.9" r="0.95" fill="#0a6bbd"/><circle cx="107.3" cy="379.0" r="0.95" fill="#0a6bbd"/><circle cx="108.7" cy="379.8" r="0.95" fill="#0a6bbd"/><circle cx="110.1" cy="380.6" r="0.95" fill="#0a6bbd"/><circle cx="111.0" cy="381.5" r="0.95" fill="#0a6bbd"/><circle cx="112.4" cy="381.2" r="0.95" fill="#0a6bbd"/><circle cx="112.8" cy="381.9" r="0.95" fill="#0a6bbd"/><circle cx="114.0" cy="382.6" r="0.95" fill="#0a6bbd"/><circle cx="115.2" cy="383.4" r="0.95" fill="#0a6bbd"/><circle cx="117.1" cy="382.8" r="0.95" fill="#0a6bbd"/><circle cx="117.7" cy="383.5" r="0.95" fill="#0a6bbd"/><circle cx="119.3" cy="384.1" r="0.95" fill="#0a6bbd"/><circle cx="119.7" cy="384.5" r="0.95" fill="#0a6bbd"/><circle cx="121.5" cy="385.1" r="0.95" fill="#0a6bbd"/><circle cx="122.4" cy="386.0" r="0.95" fill="#0a6bbd"/><circle cx="123.5" cy="386.2" r="0.95" fill="#0a6bbd"/><circle cx="124.1" cy="387.3" r="0.95" fill="#0a6bbd"/><circle cx="126.2" cy="387.4" r="0.95" fill="#0a6bbd"/><circle cx="126.4" cy="387.7" r="0.95" fill="#0a6bbd"/><circle cx="128.2" cy="387.8" r="0.95" fill="#0a6bbd"/><circle cx="128.3" cy="389.3" r="0.95" fill="#0a6bbd"/><circle cx="129.7" cy="388.8" r="0.95" fill="#0a6bbd"/><circle cx="130.7" cy="389.7" r="0.95" fill="#0a6bbd"/><circle cx="132.9" cy="389.8" r="0.95" fill="#0a6bbd"/><circle cx="133.3" cy="390.8" r="0.95" fill="#0a6bbd"/><circle cx="135.5" cy="390.3" r="0.95" fill="#0a6bbd"/><circle cx="135.7" cy="390.7" r="0.95" fill="#0a6bbd"/><circle cx="136.5" cy="392.2" r="0.95" fill="#0a6bbd"/><circle cx="137.7" cy="392.2" r="0.95" fill="#0a6bbd"/><circle cx="140.0" cy="393.2" r="0.95" fill="#0a6bbd"/><circle cx="140.6" cy="392.6" r="0.95" fill="#0a6bbd"/><circle cx="142.2" cy="393.2" r="0.95" fill="#0a6bbd"/><circle cx="142.8" cy="393.9" r="0.95" fill="#0a6bbd"/><circle cx="144.6" cy="394.8" r="0.95" fill="#0a6bbd"/><circle cx="145.6" cy="395.1" r="0.95" fill="#0a6bbd"/><circle cx="146.1" cy="395.4" r="0.95" fill="#0a6bbd"/><circle cx="147.0" cy="396.0" r="0.95" fill="#0a6bbd"/><circle cx="148.1" cy="396.7" r="0.95" fill="#0a6bbd"/><circle cx="149.8" cy="398.2" r="0.95" fill="#0a6bbd"/><circle cx="151.0" cy="398.4" r="0.95" fill="#0a6bbd"/><circle cx="151.3" cy="398.1" r="0.95" fill="#0a6bbd"/><circle cx="152.8" cy="399.2" r="0.95" fill="#0a6bbd"/><circle cx="153.6" cy="399.0" r="0.95" fill="#0a6bbd"/><circle cx="155.0" cy="400.0" r="0.95" fill="#0a6bbd"/><circle cx="157.9" cy="404.5" r="0.95" fill="#0a6bbd"/><circle cx="159.8" cy="404.9" r="0.95" fill="#0a6bbd"/><circle cx="160.4" cy="405.4" r="0.95" fill="#0a6bbd"/><circle cx="161.9" cy="405.3" r="0.95" fill="#0a6bbd"/><circle cx="163.2" cy="405.2" r="0.95" fill="#0a6bbd"/><circle cx="163.6" cy="405.8" r="0.95" fill="#0a6bbd"/><circle cx="165.4" cy="406.3" r="0.95" fill="#0a6bbd"/><circle cx="166.4" cy="406.8" r="0.95" fill="#0a6bbd"/><circle cx="167.7" cy="406.9" r="0.95" fill="#0a6bbd"/><circle cx="168.6" cy="407.5" r="0.95" fill="#0a6bbd"/><circle cx="169.1" cy="407.6" r="0.95" fill="#0a6bbd"/><circle cx="124.3" cy="303.9" r="1.15" fill="#0a6bbd"/><circle cx="123.9" cy="371.5" r="1.15" fill="#0a6bbd"/><circle cx="115.6" cy="379.9" r="1.15" fill="#0a6bbd"/><circle cx="131.8" cy="409.2" r="1.15" fill="#0a6bbd"/><circle cx="131.8" cy="414.6" r="1.15" fill="#0a6bbd"/><text class="ex" x="30.2" y="297.0">×10<tspan dx="-0.3" dy="-1.0" font-size="3.4px">−11</tspan></text><text class="lb" style="font-size:6.65px" x="103.0" y="433.3" text-anchor="middle">Time/day</text><text class="lb" style="font-size:6.30px" transform="translate(11.7 358.1) rotate(-90)" text-anchor="middle">Frequency accuracy</text><rect x="57.4" y="326.8" width="91.2" height="8.7" fill="#fff" stroke="#c8c8c8" stroke-width="0.9"/><circle cx="65.0" cy="331.5" r="1.5" fill="#0a6bbd"/><text class="lg" x="87.03" y="333.06" font-size="8.00px" text-anchor="middle" textLength="28.70" lengthAdjust="spacingAndGlyphs">C07 RMS</text><text class="lg" x="105.61" y="333.06" font-size="8.00px" text-anchor="middle" textLength="4.02" lengthAdjust="spacingAndGlyphs">=</text><text class="lg" x="117.61" y="333.06" font-size="8.00px" text-anchor="middle" textLength="16.03" lengthAdjust="spacingAndGlyphs">3.969</text><text class="lg" x="129.18" y="333.06" font-size="8.00px" text-anchor="middle" textLength="4.02" lengthAdjust="spacingAndGlyphs">×</text><text class="lg" x="136.29" y="333.06" font-size="8.00px" text-anchor="middle" textLength="7.12" lengthAdjust="spacingAndGlyphs">10</text><text class="lg" x="143.40" y="329.96" font-size="5.76px" text-anchor="middle" textLength="7.83" lengthAdjust="spacingAndGlyphs">−11</text></g>
<g><rect x="206.0" y="298.5" width="155.0" height="118.0" fill="none" stroke="#c8c8c8" stroke-width="1"/><path d="M206.0 416.5v-1.6M206.0 298.5v1.6" stroke="#c8c8c8" stroke-width="0.8"/><text class="tk" style="font-size:6.70px" x="206.0" y="423.8" text-anchor="middle">0</text><path d="M229.8 416.5v-1.6M229.8 298.5v1.6" stroke="#c8c8c8" stroke-width="0.8"/><text class="tk" style="font-size:6.70px" x="229.8" y="423.8" text-anchor="middle">100</text><path d="M253.7 416.5v-1.6M253.7 298.5v1.6" stroke="#c8c8c8" stroke-width="0.8"/><text class="tk" style="font-size:6.70px" x="253.7" y="423.8" text-anchor="middle">200</text><path d="M277.5 416.5v-1.6M277.5 298.5v1.6" stroke="#c8c8c8" stroke-width="0.8"/><text class="tk" style="font-size:6.70px" x="277.5" y="423.8" text-anchor="middle">300</text><path d="M301.4 416.5v-1.6M301.4 298.5v1.6" stroke="#c8c8c8" stroke-width="0.8"/><text class="tk" style="font-size:6.70px" x="301.4" y="423.8" text-anchor="middle">400</text><path d="M325.2 416.5v-1.6M325.2 298.5v1.6" stroke="#c8c8c8" stroke-width="0.8"/><text class="tk" style="font-size:6.70px" x="325.2" y="423.8" text-anchor="middle">500</text><path d="M349.1 416.5v-1.6M349.1 298.5v1.6" stroke="#c8c8c8" stroke-width="0.8"/><text class="tk" style="font-size:6.70px" x="349.1" y="423.8" text-anchor="middle">600</text><path d="M206.0 416.5h1.6M361.0 416.5h-1.6" stroke="#c8c8c8" stroke-width="0.8"/><text class="tk" style="font-size:6.70px" x="204.0" y="417.9" text-anchor="end">−6</text><path d="M206.0 392.9h1.6M361.0 392.9h-1.6" stroke="#c8c8c8" stroke-width="0.8"/><text class="tk" style="font-size:6.70px" x="204.0" y="394.3" text-anchor="end">−4</text><path d="M206.0 369.3h1.6M361.0 369.3h-1.6" stroke="#c8c8c8" stroke-width="0.8"/><text class="tk" style="font-size:6.70px" x="204.0" y="370.7" text-anchor="end">−2</text><path d="M206.0 345.7h1.6M361.0 345.7h-1.6" stroke="#c8c8c8" stroke-width="0.8"/><text class="tk" style="font-size:6.70px" x="204.0" y="347.1" text-anchor="end">0</text><path d="M206.0 322.1h1.6M361.0 322.1h-1.6" stroke="#c8c8c8" stroke-width="0.8"/><text class="tk" style="font-size:6.70px" x="204.0" y="323.5" text-anchor="end">2</text><path d="M206.0 298.5h1.6M361.0 298.5h-1.6" stroke="#c8c8c8" stroke-width="0.8"/><text class="tk" style="font-size:6.70px" x="204.0" y="299.9" text-anchor="end">4</text><polyline points="206.5,374.9 254.8,393.1" fill="none" stroke="#0a6bbd" stroke-width="2.1" stroke-linecap="round" stroke-linejoin="round"/><polyline points="256.4,336.0 312.3,357.3" fill="none" stroke="#0a6bbd" stroke-width="2.1" stroke-linecap="round" stroke-linejoin="round"/><polyline points="313.1,300.4 353.7,315.9" fill="none" stroke="#0a6bbd" stroke-width="2.1" stroke-linecap="round" stroke-linejoin="round"/><circle cx="248.7" cy="391.3" r="1.15" fill="#0a6bbd"/><circle cx="293.2" cy="348.8" r="1.15" fill="#0a6bbd"/><circle cx="308.3" cy="356.3" r="1.15" fill="#0a6bbd"/><circle cx="334.6" cy="307.7" r="1.15" fill="#0a6bbd"/><text class="ex" x="208.7" y="297.0">×10<tspan dx="-0.3" dy="-1.0" font-size="3.4px">−11</tspan></text><text class="lb" style="font-size:7.10px" x="283.8" y="433.1" text-anchor="middle">Time/day</text><text class="lb" style="font-size:7.00px" transform="translate(192.3 357.1) rotate(-90)" text-anchor="middle">Frequency accuracy</text><rect x="233.6" y="315.4" width="100.0" height="10.0" fill="#fff" stroke="#c8c8c8" stroke-width="0.9"/><circle cx="242.5" cy="320.5" r="1.5" fill="#0a6bbd"/><text class="lg" x="266.18" y="322.60" font-size="8.00px" text-anchor="middle" textLength="31.04" lengthAdjust="spacingAndGlyphs">C08 RMS</text><text class="lg" x="286.28" y="322.60" font-size="8.00px" text-anchor="middle" textLength="4.34" lengthAdjust="spacingAndGlyphs">=</text><text class="lg" x="299.26" y="322.60" font-size="8.00px" text-anchor="middle" textLength="17.34" lengthAdjust="spacingAndGlyphs">2.571</text><text class="lg" x="311.77" y="322.60" font-size="8.00px" text-anchor="middle" textLength="4.34" lengthAdjust="spacingAndGlyphs">×</text><text class="lg" x="319.47" y="322.60" font-size="8.00px" text-anchor="middle" textLength="7.71" lengthAdjust="spacingAndGlyphs">10</text><text class="lg" x="327.35" y="319.50" font-size="5.76px" text-anchor="middle" textLength="8.47" lengthAdjust="spacingAndGlyphs">−11</text></g>
<g><rect x="389.5" y="299.5" width="154.7" height="116.9" fill="none" stroke="#c8c8c8" stroke-width="1"/><path d="M389.5 416.4v-1.6M389.5 299.5v1.6" stroke="#c8c8c8" stroke-width="0.8"/><text class="tk" style="font-size:6.70px" x="389.5" y="423.7" text-anchor="middle">0</text><path d="M413.3 416.4v-1.6M413.3 299.5v1.6" stroke="#c8c8c8" stroke-width="0.8"/><text class="tk" style="font-size:6.70px" x="413.3" y="423.7" text-anchor="middle">100</text><path d="M437.1 416.4v-1.6M437.1 299.5v1.6" stroke="#c8c8c8" stroke-width="0.8"/><text class="tk" style="font-size:6.70px" x="437.1" y="423.7" text-anchor="middle">200</text><path d="M460.9 416.4v-1.6M460.9 299.5v1.6" stroke="#c8c8c8" stroke-width="0.8"/><text class="tk" style="font-size:6.70px" x="460.9" y="423.7" text-anchor="middle">300</text><path d="M484.7 416.4v-1.6M484.7 299.5v1.6" stroke="#c8c8c8" stroke-width="0.8"/><text class="tk" style="font-size:6.70px" x="484.7" y="423.7" text-anchor="middle">400</text><path d="M508.5 416.4v-1.6M508.5 299.5v1.6" stroke="#c8c8c8" stroke-width="0.8"/><text class="tk" style="font-size:6.70px" x="508.5" y="423.7" text-anchor="middle">500</text><path d="M532.3 416.4v-1.6M532.3 299.5v1.6" stroke="#c8c8c8" stroke-width="0.8"/><text class="tk" style="font-size:6.70px" x="532.3" y="423.7" text-anchor="middle">600</text><path d="M389.5 416.4h1.6M544.2 416.4h-1.6" stroke="#c8c8c8" stroke-width="0.8"/><text class="tk" style="font-size:6.70px" x="387.5" y="417.8" text-anchor="end">−4</text><path d="M389.5 399.7h1.6M544.2 399.7h-1.6" stroke="#c8c8c8" stroke-width="0.8"/><text class="tk" style="font-size:6.70px" x="387.5" y="401.1" text-anchor="end">−3</text><path d="M389.5 383.0h1.6M544.2 383.0h-1.6" stroke="#c8c8c8" stroke-width="0.8"/><text class="tk" style="font-size:6.70px" x="387.5" y="384.4" text-anchor="end">−2</text><path d="M389.5 366.3h1.6M544.2 366.3h-1.6" stroke="#c8c8c8" stroke-width="0.8"/><text class="tk" style="font-size:6.70px" x="387.5" y="367.7" text-anchor="end">−1</text><path d="M389.5 349.6h1.6M544.2 349.6h-1.6" stroke="#c8c8c8" stroke-width="0.8"/><text class="tk" style="font-size:6.70px" x="387.5" y="351.0" text-anchor="end">0</text><path d="M389.5 332.9h1.6M544.2 332.9h-1.6" stroke="#c8c8c8" stroke-width="0.8"/><text class="tk" style="font-size:6.70px" x="387.5" y="334.3" text-anchor="end">1</text><path d="M389.5 316.2h1.6M544.2 316.2h-1.6" stroke="#c8c8c8" stroke-width="0.8"/><text class="tk" style="font-size:6.70px" x="387.5" y="317.6" text-anchor="end">2</text><path d="M389.5 299.5h1.6M544.2 299.5h-1.6" stroke="#c8c8c8" stroke-width="0.8"/><text class="tk" style="font-size:6.70px" x="387.5" y="300.9" text-anchor="end">3</text><polyline points="390.3,306.6 401.4,307.5 413.4,309.0 421.7,309.6" fill="none" stroke="#0a6bbd" stroke-width="2.3" stroke-linecap="round" stroke-linejoin="round"/><polyline points="422.8,391.5 469.0,396.5 489.9,398.2 513.2,401.9 536.3,406.1" fill="none" stroke="#0a6bbd" stroke-width="2.3" stroke-linecap="round" stroke-linejoin="round"/><circle cx="489.9" cy="396.5" r="1.15" fill="#0a6bbd"/><circle cx="513.2" cy="401.2" r="1.15" fill="#0a6bbd"/><text class="ex" x="392.2" y="298.0">×10<tspan dx="-0.3" dy="-1.0" font-size="3.4px">−11</tspan></text><text class="lb" style="font-size:7.10px" x="467.2" y="433.1" text-anchor="middle">Time/day</text><text class="lb" style="font-size:7.00px" transform="translate(376.3 357.6) rotate(-90)" text-anchor="middle">Frequency accuracy</text><rect x="417.2" y="345.4" width="98.9" height="10.0" fill="#fff" stroke="#c8c8c8" stroke-width="0.9"/><circle cx="425.7" cy="350.5" r="1.5" fill="#0a6bbd"/><text class="lg" x="449.35" y="352.60" font-size="8.00px" text-anchor="middle" textLength="31.39" lengthAdjust="spacingAndGlyphs">C09 RMS</text><text class="lg" x="469.68" y="352.60" font-size="8.00px" text-anchor="middle" textLength="4.39" lengthAdjust="spacingAndGlyphs">=</text><text class="lg" x="482.80" y="352.60" font-size="8.00px" text-anchor="middle" textLength="17.53" lengthAdjust="spacingAndGlyphs">2.823</text><text class="lg" x="495.45" y="352.60" font-size="8.00px" text-anchor="middle" textLength="4.39" lengthAdjust="spacingAndGlyphs">×</text><text class="lg" x="503.24" y="352.60" font-size="8.00px" text-anchor="middle" textLength="7.79" lengthAdjust="spacingAndGlyphs">10</text><text class="lg" x="510.60" y="349.50" font-size="5.76px" text-anchor="middle" textLength="8.56" lengthAdjust="spacingAndGlyphs">−11</text></g>
</svg></body></html>
